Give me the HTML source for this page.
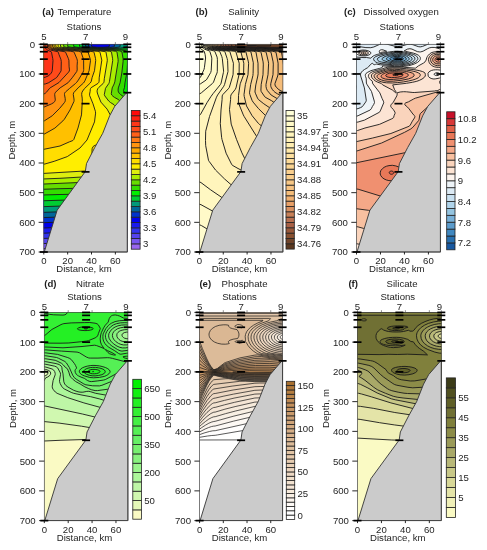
<!DOCTYPE html>
<html><head><meta charset="utf-8"><title>Hydrographic sections</title>
<style>
html,body{margin:0;padding:0;background:#fff;}
body{width:487px;height:550px;overflow:hidden;}
svg{display:block;}
text{font-family:"Liberation Sans",Arial,sans-serif;fill:#1e1e1e;}
.tl{font-size:9.6px;}
.tt{font-size:9.6px;}
.tb{font-size:9.6px;font-weight:bold;}
</style></head><body>
<svg width="487" height="550" viewBox="0 0 487 550">
<rect width="487" height="550" fill="#fff"/>
<clipPath id="clipa"><rect x="43.80" y="44.30" width="83.50" height="207.70"/></clipPath>
<g clip-path="url(#clipa)" stroke="#1a1a1a" stroke-width="0.9" fill-rule="evenodd">
<rect x="41.80" y="42.30" width="87.50" height="211.70" fill="#9966ee" stroke="none"/>
<path fill="#7755ee" d="M42.0,42.5l87.1,0 0,194.5 -8.6,3.1 -7.5,2.4 -6.8,1.7 -6.3,1.1 -4.4,.4 -35,2.5 -18.5,.6 0-206.3z"/>
<path fill="#5544ee" d="M42.0,42.5l87.1,0 0,186.8 -11.7,4.8 -7.8,2.8 -6.3,1.9 -6.3,1.4 -6.8,.8 -29.7,2 -18.5,.6 0-201.1z"/>
<path fill="#3333ee" d="M42.0,42.5l87.1,0 0,178.7 -21.9,9.9 -3.9,1.6 -3.8,1.2 -5,1.3 -4.8,.8 -29.7,1.8 -18,.7 0-196z"/>
<path fill="#1a1aee" d="M42.0,42.5l87.1,0 0,109.4 -1.5-1 -1.4-.6 -1.5-.3 -1,.2 -.9,.6 -.7,1.1 -.6,1.8 -.1,1.7 .4,2.7 .7,1.3 .8,.9 .9,.7 1.5,.7 1.4,.4 2,.1 0,50.6 -13.1,5.7 -4.4,2.2 -10.2,6 -3,1.4 -2.9,1 -3.9,.8 -30.6,2.5 -19,.9 0-190.8z"/>
<path fill="#0000ee" d="M42.0,42.5l87.1,0 0,106.7 -2.4-1.1 -2-.6 -1.4,.1 -1,.5 -1,1 -1,2 -.6,2.6 -.2,2.6 .1,1.8 .3,1.7 .6,1.4 .9,1.3 1.4,1.1 1.4,.9 2.5,1 2.4,.8 0,38.1 -4.9,2 -10.7,3.9 -4.4,1.9 -4.3,2.8 -9.3,7.3 -2.9,1.7 -2.4,.9 -30.2,2.4 -18,.8 0-185.6z"/>
<path fill="#0033cc" d="M42.0,42.5l49.6,0 0,4 2.2,.4 3.7,.4 5.8,0 4.3-.4 1.7-.4 .1-4 19.7,0 0,104.8 -2.9-1.1 -2.5-.6 -1.4,.2 -1,.7 -1.5,2.5 -.8,2.5 -.7,3.5 -.3,3.5 .1,1.8 .4,1.7 .6,1.4 1.1,1.3 2.6,1.9 6.3,3.4 0,26.1 -3.1,1.7 -3.7,1.5 -14.2,4.2 -4.8,1.9 -3.4,2 -6.8,5.8 -2.9,1.7 -19.5,4.7 -11.2,2.4 -17.5,.8 0-180.3z"/>
<path fill="#006699" d="M42.0,42.5l46.5,0 .1,4 .8,.4 2.2,.5 5.9,.4 5.8,.1 6.3-.3 3.9-.7 .8-.4 .1-4 14.7,0 0,103.2 -3.9-1.3 -1.9-.4 -1.5,.1 -1,.7 -1,1.7 -.9,2.3 -1.3,4.4 -.8,4.4 -.3,3.6 .4,2.6 .7,1.3 .8,1.1 1.8,1.6 5.9,3.9 1.5,1.4 1.5,1.8 0,11.9 -2.4,2.5 -3.4,2.1 -3.5,1.5 -10.7,3.6 -9,3.5 -13.8,7.6 -2,.5 -.6,.7 -1.3,.5 -1.5,1.3 -10,5.7 -1.2,.4 -27.7,.9 0-175.1z"/>
<path fill="#00997a" d="M42.0,42.5l43.6,0 0,4 .8,.4 5.2,1 11.7,.4 7.8-.2 6.8-.8 1.5-.4 .7-.4 0-4 9,0 0,101.9 -6.8-1.9 -1,0 -.5,.1 -.5,.6 -2.4,6.1 -1.2,3.9 -1.2,5.8 -.5,3.5 .2,2.6 .5,1.4 .7,1.1 2,1.9 4.4,3.1 1.8,2.2 .6,1.4 .3,1.7 0,1.3 -.4,1.4 -.6,1.3 -.8,.9 -1.4,1.3 -1.4,.9 -10.3,4.7 -29.7,16 -1.4,1.2 -2.2,.6 -6.6,3.7 -1.4,.4 -3.5,0 -23.8,.8 0-169.9z"/>
<path fill="#00cc33" d="M42.0,42.5l40.6,0 0,4 .8,.4 2.9,.7 4.8,.6 6.4,.4 11.6,.1 10.3-.5 5.8-.7 1.6-.6 .8-.4 0-.5 1.5,0 0,97.1 -7.8-1.9 -1,0 -.5,.4 -3.8,11.6 -2.1,8 -.6,3.5 .2,2.6 1.1,2.7 .9,1.3 1.4,1.6 2.9,1.9 .2,.9 -.6,.8 -2,.5 -.5,.3 -15.5,11.8 -10.3,8.1 -11.6,8.4 -4.4,0 -33.1,1.1 0-164.2z"/>
<path fill="#00ee00" d="M42.0,42.5l37.5,0 .1,4 .7,.4 1.1,.3 3,.6 7.2,.8 5.9,.3 6.3,.2 23.3,0 2,.3 0,92.6 -8.3-1.9 -1,.2 -.4,.5 -2,5.7 -1,3.2 -.2,1.3 -.8,1.8 -4.1,13.2 -1.1,3.1 -.5,1.8 -.1,2.3 -.7,1.6 -.8,.9 -1.4,.9 -1.9,.4 -.5,0 -.7-.4 1.2-1.1 .8-1.1 1.6-1.3 1.5-2.2 -.2-.9 -1.5-1.3 -1.7-.8 -1,0 -.4,.3 -1.2,1.8 -.9,2.7 -.1,2.6 .3,1.7 -.2,.9 -4.3,4.4 -1.1,1.4 -1.1,.8 -.2,.5 .6,4.4 -.1,.9 -.7,1.3 -1.6,1.8 -2.2,1.9 -1.4,1 -1.5,.7 -1.4,.1 -1-.4 -1.1-1.1 -.4-.1 -.5,.2 -3.7,3.8 .1,1.8 -.6,.9 -.6,.2 -.5-.1 -.5-.5 -.4-1.4 -.3-.4 -.7-.3 -34.6,1.1 0-158.3zM86.8,191.9l-.5,.4 0,.4 .5-.2 .3-.5 -.3-.1zM121.3,131.4l-1.9,2.9 0,.8 .4,.5 .9-.5 .2-.4 .3-1.3 .6-1.3 0-.8 -.5,.1zM127.1,117.2l-.3,.3 .3,1.4 .5,.2 .5-.3 .3-.9 -.3-.5 -1-.2z"/>
<path fill="#33dd00" d="M42.0,42.5l31.6,0 .1,4 1.4,.4 9.2,1.4 7.3,.7 11.7,.5 12.2,.2 5.7,.3 5,.8 1.2,.5 .4,.5 .2,4.8 -1,15.5 -2,10.6 -.5,4.8 -1,3.1 .2,1 2.5,1.5 .8,1 1.7,8.8 0,2.2 .4,1.4 0,.4 -1.5,1 -.5,.9 -.4,1.6 -.3,3.6 .5,1.7 -.9,1.4 0,1.3 -1.4,1.3 -.3,.4 .2,.5 2.2,.5 .9-.1 1.5-.5 0,20.3 -5.8-1 -2.4-.7 -.7-.4 -.1-.9 .2-.8 1-1.6 2.9-6 .3-3.1 -.3-1.7 1-1.4 .1-.4 -.6-.7 -.5-.3 -.5,.1 -.4,.9 0,1.3 -.9,1.3 -3.9,8.9 -.1,1.3 -.7,1.3 .7,.6 .9,1.2 .2,.4 -.1,.4 -1.6,3.6 -.8,2.6 -1.1,4.9 -1.1,2.2 -3.2,9.1 -1,2.2 -1,1.4 -.9,.7 -1,.2 -2.9,0 -1.5,.5 -1.5,2.6 -6.3,13 -1.3,1.6 -.5,1.3 -.1,.3 -1,.2 -.5,.3 -.7,1.4 -1.7,1.2 -3.4,.8 -1.3,.7 -.5,.4 -.4,.9 0,1.8 -.3,.5 -1.9,.2 -21.9,.4 -18,.5 0-152.5zM110.6,149.0l-1.6,2.5 -3.7,4.5 -1,1.5 -.5,1.2 -.2,1.1 .2,.9 .5,.5 .5,.1 .6-.1 .7-1.8 .8-.9 1.7-4 .7-1.3 .6-1.7 .7-.9 .2-1.3 -.2-.3zM111.6,147.0l-.5,.9 -.2,.9 .2,.1 .7-1 .1-.4 -.3-.5zM114.5,139.4l-.7,.6 -.8,1.6 -1,3.7 .1,1.2 0-.3 .9-.8 .3-1.4 1-1.4 .4-1.7 .8-.9 0-.5 -.5-.2 -.5,.1zM129.1,112.6l0,.7 0-.7zM91.4,191.6l.2-.1 .2,.1 -.2,.4 -.2-.4zM89.1,193.8l.6-.2 .2,.2 -1.4,.9 -.8,.2 -.5-.2 .1-.5 1.8-.4z"/>
<path fill="#66dd00" d="M42.0,42.5l25.7,0 0,4 1.3,.4 3,.5 19.1,1.9 25.3,1.2 3.2,.4 1.5,.4 .8,.5 1.2,7 0,2.7 -1.3,11.5 -1.7,9.7 -1.8,5.2 -.2,2.3 .3,1.7 .8,1.3 1.1,1.1 3.4,2.5 1.5,1.7 .7,1.4 0,4.8 -.4,5.7 0,1.8 -.2,1.3 .1,1.8 -.1,2.6 -2.3,1.4 -.9,1.3 -1.3,5.3 -2.8,7.9 -.1,1.3 -.2,.5 -1.4,.9 -.3,.4 .2,.4 1.2,.4 .6,.5 .6,1.3 -.1,.9 -1.2,2.2 -.5,1.8 -.9,1.3 .3,1.3 -.6,1.8 -.1,1.4 -2.2,4.3 -2.8,7.5 -1.4,2 -.9,.7 -1,.2 -1,0 -.9-.5 -1-1.5 .1-.4 .5-.5 1.1-.4 .3-.4 .4-1.4 1.1-1.3 .6-1.3 1-1.3 2.9-4.9 .6-1.3 .9-1.3 .2-1.6 .8-1.1 .1-.4 -.1-1.3 .6-1.4 .4-1.7 .5-.9 .1-.5 -.4-.9 -.5-.8 -.5-.2 -1.5,.6 -1,1.2 -3.7,8.5 -2,3.6 -3,4.7 -.9,1.9 -.4,1.3 .1,1.8 .8,1.7 .2,.9 .6,.9 0,.4 -.2,.5 -1.2,.9 -8.7,14.9 -3,4.5 -.9,1.7 -.5,.4 -29.7,.7 -18,.6 0-146.8zM127.2,122.3l1.9-.4 0,17.7 -5.4-.7 -1.9-.6 -.6-.5 .8-2.7 2.5-3.9 .5-1.4 .3-5.7 1.4-1.6 .5-.2z"/>
<path fill="#aaee00" d="M42.0,42.5l21.7,0 0,4 .9,.4 1.8,.5 24.7,2.2 21,1.2 3.6,.5 1.1,.5 .2,.4 1.1,7.1 0,2.2 -3.3,20.3 -.7,2.2 -1.9,3.9 -.9,5.8 .4,1.3 1.3,1.3 1.5,1.1 3.6,2 1.5,1.3 .5,.9 .6,2.7 1.3,3.9 0,1.4 -.4,1.3 -.5,3.1 .1,1.7 -.7,1.8 -2.5,14.1 -.6,1.8 0,1.3 -.3,.4 -3.6,1.3 -1.4,1.6 -3.9,8.5 -5.5,9.8 -1.1,2.7 -.2,3 .2,.9 1.5,1.8 0,.4 -.9,.9 -1.8,2.8 -10.1,12.6 -.4,.9 -.5,2.7 -.2,.5 -.5,.5 -1-.2 -1-.8 -.4-1.3 .5-1.4 -.5-.1 -44.3,1.9 0-141.6zM127.8,123.7l1.3-.4 0,14.9 -2.9-.1 -2.1-.3 -1-.5 -.5-.8 .2-.9 2.6-4 .6-1.3 .2-1.3 -.1-2.2 .2-1.8 .4-.6 1.1-.7zM114.3,150.1l.2-.3 .1,.3 -.1,.2 -.2-.2zM110.5,156.8l.2,0 .1,.4 -.2,1.3 -.8,2.2 -.7,1.2 -.9,.9 -1,.5 -.5,0 -1-.4 .2-.4 .9-.5 .3-.4 .4-1.8 1.1-.8 .6-1.4 .4-.4 .9-.4z"/>
<path fill="#ddee10" d="M42.0,42.5l18.5,0 0,4 .5,.4 1.3,.5 6.8,.9 22,1.7 15,.9 3.5,.4 1.7,.5 .2,.4 1.1,6.6 .1,1.8 -3.2,20.7 -.3,1.4 -.4,.8 -2.5,3.6 -.8,1.3 -1.2,6.2 .5,1.3 3.9,5.1 1.8,1.5 3.5,2.2 .8,.9 3,8.4 .2,.9 -.2,.8 -3.8,11.9 .2,.9 .3,.4 1,.4 .5,.4 .4,1.3 0,1.1 -.4,1.3 -.5,.3 -1-.1 -1.5-.5 -.5,.1 -.4,.5 -2.1,6.3 -7.8,15.4 -.6,1.8 -.8,1.3 -.2,.5 0,1.7 -.7,.8 -1,.7 -1.1,2.5 -.5,1.8 -.9,.8 -1.1,2.2 -.8,.8 -.8,.6 -11.8,6.1 -21.9,1.3 -18,.7 0-136.5zM128.8,125.4l.3-.1 0,11.2 -2.9-.2 -1-.6 -.1-.6 1.9-3.5 .5-1.8 .3-3 .3-.8 .7-.6z"/>
<path fill="#ffee00" d="M42.0,42.5l16.1,0 0,4 .5,.4 .9,.5 2,.5 6.3,.7 32.6,2.4 4.9,.7 .4,.1 .3,.4 1.2,6.6 .1,1.8 -3,18.1 -.3,3.1 -.3,.9 -.6,.8 -4.4,4 -.8,.9 -.7,1.8 -.1,1.7 .6,2.2 3.2,8 6.2,7 2.9,5.3 1.6,2.1 .3,1 0,.9 -4.1,17.6 -1,3.5 -.8,1.8 -5,15.5 -1.2,1.7 0,1.3 -.2,.5 -1.4,.9 -6.6,5.2 -2.3,1.4 -3.5,2.7 -1,.5 -42.8,2.5 0-131z"/>
<path fill="#ffdd00" d="M42.0,42.5l13.8,0 0,4 .3,.4 2.3,.9 3.1,.6 6.3,.7 11.7,.7 13.4,1.1 4.3,.4 2.4,.5 .4,.4 1.8,8 -2.6,17.6 -.1,3.5 -.2,.9 -.5,.8 -.4,.4 -6.9,4.3 -.5,.7 -.3,.9 -.2,2.2 -.5,2.6 0,1.3 3.4,8.4 2.4,7.5 .2,1.8 -1.1,8.8 -7.5,18.1 -7,8 -12.7,8.6 -13.1,4.7 -9.3,2.7 -2.9,.5 0-122zM95.0,145.3l2-.4 1.4,.1 1.2,.7 .8,1.3 .4,1.8 .1,2.2 -.2,1.8 -.7,3.1 -1.8,3.1 -.7,.6 -1.5,.8 -2.8,1.2 -2.1,1.4 -.9,.2 -1-.6 -.2-1 .3-.9 1.8-2.9 .7-1.9 .3-1.8 -.1-4 .2-1.7 .9-1.8 1-.8 .9-.5z"/>
<path fill="#ffc000" d="M42.0,42.5l12.1,0 0,4 .3,.4 1.4,.9 3.7,.8 6.3,.7 21.3,1.6 6.5,.9 .4,.4 1.5,6.2 .2,2.2 -1.2,10.1 -2.4,6.9 -.8,3.7 -1.1,1.8 -5.9,5.7 -1.6,2.2 -.9,1.8 -.1,1.8 .5,3.5 .1,3.5 -.8,13.3 -3.5,13.1 -4.2,11.5 -.7,.8 -.9,.5 -2.9,1.1 -9.3,4.1 -18,3.7 0-107.2z"/>
<path fill="#ffa800" d="M42.0,42.5l10.5,0 .1,4 .2,.4 1.1,.9 2.2,.8 5.9,.9 17.5,1.3 8.1,1 .5,.4 2.1,6.6 .3,1.8 -1.4,10.1 -4,9.7 -.8,1.5 -.9,1.2 -5.3,4.8 -4.5,4.9 -.3,1.8 .7,4.4 .1,1.3 -.2,1.3 -3.9,8.4 -5.6,9.2 -1.5,1.7 -8,7.2 -10.1,5.7 -1.3,.6 -1.5,.3 0-92.2z"/>
<path fill="#ff9410" d="M42.0,42.5l9,0 0,4 .1,.4 .4,.5 1.2,.7 2.9,1 5.9,.8 12.7,1 4.2,.4 2.2,.5 .5,.4 2.1,6.2 .4,1.8 .1,9.2 -.1,1.3 -.5,1.4 -4.7,7.9 -1.6,2.2 -1.3,1.3 -5.9,4.9 -4,3.5 -.8,.9 -.3,.9 0,.9 .7,3.9 .1,1.8 -.1,.9 -.8,1.4 -4.6,5.6 -7.6,7.6 -7.8,5 -2.4,.8 0-79.1z"/>
<path fill="#ff7a14" d="M42.0,42.5l7.8,0 0,4 .3,.9 1.2,1 2,.7 2.3,.6 3.4,.5 11.8,1.1 2.8,.5 .5,.4 2.8,6.6 .4,1.4 .1,1.3 -.3,4.4 .1,4 -.5,1.7 -4.5,6.2 -4.1,4.9 -8,5.2 -5,4.8 -.3,1 -.1,.9 .6,5.3 -.2,.8 -.4,.9 -1.5,1.3 -1.9,1.1 -6.9,2.9 -2.4,.4 0-64.8z"/>
<path fill="#ff6018" d="M42.0,42.5l6.6,0 0,4.4 .9,1.4 1.3,.8 4.3,1.1 10,1.6 .5,.4 2.7,6.2 .6,1.8 .2,6.6 .4,3.1 -.2,1.1 -.7,1.1 -9.6,10.4 -8.9,5.4 -.9,.9 -2.8,3.5 -1,.9 -1.4,.8 -2,.6 0-52.1z"/>
<path fill="#ff4a1a" d="M42.0,42.5l5.4,0 0,4.4 .3,.9 .6,.9 1,.8 1.5,.6 7.2,1.7 .3,.4 .7,2.4 1.9,4.7 .4,2.2 -.2,9.2 -.7,1.4 -3.6,5.3 -1.2,.9 -7.3,4.6 -2.9,1 -3.4,.6 0-42z"/>
<path fill="#ff3518" d="M42.0,42.5l3,0 0,4 .1,.9 .4,.9 .8,.8 1.5,1.2 3.5,1.5 .2,.4 1.2,6.2 .3,2.2 -.7,9.7 -.3,1.3 -.7,1.4 -1.5,1.7 -1.7,1.3 -2.7,1.2 -3.4,.9 0-35.6z"/>
<path fill="#ff2010" d="M42.0,51.3l0-.2 .5,.7 .1,1.7 -.1,2.3 -.5,2.4 0-6.9z"/>
</g>
<path fill="#cbcbcb" stroke="#333" stroke-width="0.9" d="M127.30,92.66L126.11,93.26L114.77,106.31L109.65,115.81L102.73,133.31L94.73,147.56L86.50,163.58L85.31,171.59L57.16,210.16L44.28,252.00L127.30,252.00Z"/>
<rect x="43.80" y="44.30" width="83.50" height="207.70" fill="none" stroke="#444" stroke-width="0.7"/>
<line x1="38.60" x2="43.80" y1="44.30" y2="44.30" stroke="#111" stroke-width="0.9"/>
<text x="35.20" y="47.70" class="tl" text-anchor="end">0</text>
<line x1="38.60" x2="43.80" y1="73.97" y2="73.97" stroke="#111" stroke-width="0.9"/>
<text x="35.20" y="77.37" class="tl" text-anchor="end">100</text>
<line x1="38.60" x2="43.80" y1="103.64" y2="103.64" stroke="#111" stroke-width="0.9"/>
<text x="35.20" y="107.04" class="tl" text-anchor="end">200</text>
<line x1="38.60" x2="43.80" y1="133.31" y2="133.31" stroke="#111" stroke-width="0.9"/>
<text x="35.20" y="136.71" class="tl" text-anchor="end">300</text>
<line x1="38.60" x2="43.80" y1="162.99" y2="162.99" stroke="#111" stroke-width="0.9"/>
<text x="35.20" y="166.39" class="tl" text-anchor="end">400</text>
<line x1="38.60" x2="43.80" y1="192.66" y2="192.66" stroke="#111" stroke-width="0.9"/>
<text x="35.20" y="196.06" class="tl" text-anchor="end">500</text>
<line x1="38.60" x2="43.80" y1="222.33" y2="222.33" stroke="#111" stroke-width="0.9"/>
<text x="35.20" y="225.73" class="tl" text-anchor="end">600</text>
<line x1="38.60" x2="43.80" y1="252.00" y2="252.00" stroke="#111" stroke-width="0.9"/>
<text x="35.20" y="255.40" class="tl" text-anchor="end">700</text>
<line x1="43.80" x2="43.80" y1="252.00" y2="254.50" stroke="#111" stroke-width="0.9"/>
<text x="43.80" y="264.30" class="tl" text-anchor="middle">0</text>
<line x1="67.66" x2="67.66" y1="252.00" y2="254.50" stroke="#111" stroke-width="0.9"/>
<text x="67.66" y="264.30" class="tl" text-anchor="middle">20</text>
<line x1="91.51" x2="91.51" y1="252.00" y2="254.50" stroke="#111" stroke-width="0.9"/>
<text x="91.51" y="264.30" class="tl" text-anchor="middle">40</text>
<line x1="115.37" x2="115.37" y1="252.00" y2="254.50" stroke="#111" stroke-width="0.9"/>
<text x="115.37" y="264.30" class="tl" text-anchor="middle">60</text>
<line x1="43.80" x2="43.80" y1="42.10" y2="44.30" stroke="#444" stroke-width="0.6"/>
<line x1="67.66" x2="67.66" y1="42.10" y2="44.30" stroke="#444" stroke-width="0.6"/>
<line x1="91.51" x2="91.51" y1="42.10" y2="44.30" stroke="#444" stroke-width="0.6"/>
<line x1="115.37" x2="115.37" y1="42.10" y2="44.30" stroke="#444" stroke-width="0.6"/>
<line x1="127.30" x2="127.30" y1="42.10" y2="44.30" stroke="#444" stroke-width="0.6"/>
<text x="43.80" y="40.30" class="tl" text-anchor="middle">5</text>
<text x="85.55" y="40.30" class="tl" text-anchor="middle">7</text>
<text x="125.30" y="40.30" class="tl" text-anchor="middle">9</text>
<rect x="39.80" y="43.45" width="8" height="1.7" fill="#000"/>
<rect x="39.80" y="46.42" width="8" height="1.7" fill="#000"/>
<rect x="39.80" y="50.87" width="8" height="1.7" fill="#000"/>
<rect x="39.80" y="58.29" width="8" height="1.7" fill="#000"/>
<rect x="39.80" y="73.12" width="8" height="1.7" fill="#000"/>
<rect x="39.80" y="102.79" width="8" height="1.7" fill="#000"/>
<rect x="39.80" y="251.15" width="8" height="1.7" fill="#000"/>
<rect x="81.55" y="43.45" width="8" height="1.7" fill="#000"/>
<rect x="81.55" y="46.42" width="8" height="1.7" fill="#000"/>
<rect x="81.55" y="50.87" width="8" height="1.7" fill="#000"/>
<rect x="81.55" y="58.29" width="8" height="1.7" fill="#000"/>
<rect x="81.55" y="73.12" width="8" height="1.7" fill="#000"/>
<rect x="81.55" y="102.79" width="8" height="1.7" fill="#000"/>
<rect x="81.55" y="171.04" width="8" height="1.7" fill="#000"/>
<rect x="123.30" y="43.45" width="8" height="1.7" fill="#000"/>
<rect x="123.30" y="46.42" width="8" height="1.7" fill="#000"/>
<rect x="123.30" y="50.87" width="8" height="1.7" fill="#000"/>
<rect x="123.30" y="58.29" width="8" height="1.7" fill="#000"/>
<rect x="123.30" y="73.12" width="8" height="1.7" fill="#000"/>
<rect x="123.30" y="91.81" width="8" height="1.7" fill="#000"/>
<rect x="131.30" y="243.86" width="8.80" height="5.34" fill="#9966ee" stroke="#222" stroke-width="0.8"/>
<rect x="131.30" y="238.52" width="8.80" height="5.34" fill="#7755ee" stroke="#222" stroke-width="0.8"/>
<rect x="131.30" y="233.18" width="8.80" height="5.34" fill="#5544ee" stroke="#222" stroke-width="0.8"/>
<rect x="131.30" y="227.85" width="8.80" height="5.34" fill="#3333ee" stroke="#222" stroke-width="0.8"/>
<rect x="131.30" y="222.51" width="8.80" height="5.34" fill="#1a1aee" stroke="#222" stroke-width="0.8"/>
<rect x="131.30" y="217.17" width="8.80" height="5.34" fill="#0000ee" stroke="#222" stroke-width="0.8"/>
<rect x="131.30" y="211.83" width="8.80" height="5.34" fill="#0033cc" stroke="#222" stroke-width="0.8"/>
<rect x="131.30" y="206.49" width="8.80" height="5.34" fill="#006699" stroke="#222" stroke-width="0.8"/>
<rect x="131.30" y="201.15" width="8.80" height="5.34" fill="#00997a" stroke="#222" stroke-width="0.8"/>
<rect x="131.30" y="195.82" width="8.80" height="5.34" fill="#00cc33" stroke="#222" stroke-width="0.8"/>
<rect x="131.30" y="190.48" width="8.80" height="5.34" fill="#00ee00" stroke="#222" stroke-width="0.8"/>
<rect x="131.30" y="185.14" width="8.80" height="5.34" fill="#33dd00" stroke="#222" stroke-width="0.8"/>
<rect x="131.30" y="179.80" width="8.80" height="5.34" fill="#66dd00" stroke="#222" stroke-width="0.8"/>
<rect x="131.30" y="174.46" width="8.80" height="5.34" fill="#aaee00" stroke="#222" stroke-width="0.8"/>
<rect x="131.30" y="169.12" width="8.80" height="5.34" fill="#ddee10" stroke="#222" stroke-width="0.8"/>
<rect x="131.30" y="163.78" width="8.80" height="5.34" fill="#ffee00" stroke="#222" stroke-width="0.8"/>
<rect x="131.30" y="158.45" width="8.80" height="5.34" fill="#ffdd00" stroke="#222" stroke-width="0.8"/>
<rect x="131.30" y="153.11" width="8.80" height="5.34" fill="#ffc000" stroke="#222" stroke-width="0.8"/>
<rect x="131.30" y="147.77" width="8.80" height="5.34" fill="#ffa800" stroke="#222" stroke-width="0.8"/>
<rect x="131.30" y="142.43" width="8.80" height="5.34" fill="#ff9410" stroke="#222" stroke-width="0.8"/>
<rect x="131.30" y="137.09" width="8.80" height="5.34" fill="#ff7a14" stroke="#222" stroke-width="0.8"/>
<rect x="131.30" y="131.75" width="8.80" height="5.34" fill="#ff6018" stroke="#222" stroke-width="0.8"/>
<rect x="131.30" y="126.42" width="8.80" height="5.34" fill="#ff4a1a" stroke="#222" stroke-width="0.8"/>
<rect x="131.30" y="121.08" width="8.80" height="5.34" fill="#ff3518" stroke="#222" stroke-width="0.8"/>
<rect x="131.30" y="115.74" width="8.80" height="5.34" fill="#ff2010" stroke="#222" stroke-width="0.8"/>
<rect x="131.30" y="110.40" width="8.80" height="5.34" fill="#ff0a0a" stroke="#222" stroke-width="0.8"/>
<text x="142.90" y="119.24" class="tl">5.4</text>
<text x="142.90" y="135.25" class="tl">5.1</text>
<text x="142.90" y="151.27" class="tl">4.8</text>
<text x="142.90" y="167.28" class="tl">4.5</text>
<text x="142.90" y="183.30" class="tl">4.2</text>
<text x="142.90" y="199.32" class="tl">3.9</text>
<text x="142.90" y="215.33" class="tl">3.6</text>
<text x="142.90" y="231.35" class="tl">3.3</text>
<text x="142.90" y="247.36" class="tl">3</text>
<text x="42.30" y="14.80" class="tb">(a)</text>
<text x="57.40" y="14.80" class="tt">Temperature</text>
<text x="83.95" y="29.70" class="tt" text-anchor="middle">Stations</text>
<text x="83.95" y="272.10" class="tt" text-anchor="middle">Distance, km</text>
<text class="tt" text-anchor="middle" transform="translate(15.20,140.15) rotate(-90)">Depth, m</text>
<clipPath id="clipb"><rect x="199.40" y="44.30" width="83.50" height="207.70"/></clipPath>
<g clip-path="url(#clipb)" stroke="#1a1a1a" stroke-width="0.95" fill-rule="evenodd">
<rect x="197.40" y="42.30" width="87.50" height="211.70" fill="#5a3820" stroke="none"/>
<path fill="#70442a" d="M197.6,42.5l49.6,0 0,3.1 9.3,0 .5,.4 13.6,0 0-3.5 14.1,0 0,211.3 -87.1,0 0-211.3z"/>
<path fill="#885030" d="M197.6,42.5l37.7,0 0,3.1 1.4,.4 10.5,.8 23.9,.6 13.6,0 0,206.4 -87.1,0 0-211.3z"/>
<path fill="#98583a" d="M197.6,42.5l33.6,0 0,3.1 .8,.4 3.1,.6 12.1,.6 37.5,.9 0,205.7 -87.1,0 0-211.3z"/>
<path fill="#a86045" d="M197.6,42.5l30.4,0 0,3.1 .6,.4 5.9,.9 12.7,.7 37.5,1.1 0,205.1 -87.1,0 0-211.3z"/>
<path fill="#b87050" d="M197.6,42.5l28,0 0,3.1 .7,.4 1.6,.5 3.1,.4 4.6,.4 11.1,.5 38,1.4 0,204.6 -87.1,0 0-211.3z"/>
<path fill="#c88058" d="M197.6,42.5l25.7,0 .1,3.2 .6,.3 1.6,.5 3.6,.6 6.4,.5 49.1,2.1 0,204.1 -87.1,0 0-211.3z"/>
<path fill="#d89060" d="M197.6,42.5l24.2,0 0,3.1 .4,.4 1.2,.5 5.6,.9 6.1,.5 30.1,1.2 19.5,1.1 0,203.6 -87.1,0 0-211.3z"/>
<path fill="#e8a068" d="M197.6,42.5l22.7,0 0,3.1 .5,.4 2.6,.9 3.2,.5 8.5,.7 31.1,1.4 18.5,1.3 0,203 -87.1,0 0-211.3z"/>
<path fill="#f0b070" d="M197.6,42.5l21.2,0 0,3.1 .5,.4 2.5,.9 2.4,.5 10.9,.9 33.6,1.7 11,.9 5,.6 0,202.3 -87.1,0 0-211.3z"/>
<path fill="#f5bd7a" d="M197.6,42.5l19.7,0 .1,3.1 .4,.4 2.5,.9 3.1,.7 11.7,1 21.4,1 12.9,.9 8.4,.8 2.5,.5 1.2,.4 1.5,8.4 .5,4.4 .4,8.4 -.3,7.5 .3,1.8 .8,1.2 0,169.9 -87.1,0 0-211.3z"/>
<path fill="#f6c282" d="M197.6,42.5l18.5,0 0,3.1 .4,.4 2.2,.9 4.2,.9 9.7,.8 31.7,1.9 8.4,.8 2.3,.5 1,.4 2.1,11 0,10.6 -.4,2.2 -2.7,7.5 0,1.4 .4,1.1 .8,1.1 2.7,2.6 2.2,1.3 3.6,.9 0,161.9 -87.1,0 0-211.3z"/>
<path fill="#f7c786" d="M197.6,42.5l17.3,0 0,3.1 .4,.4 1.9,.9 4.2,.9 7.8,.9 32.6,2 6.1,.6 2.3,.5 .8,.4 2.1,9.7 .2,2.2 -.3,10.6 -2.2,8.8 -.1,1.8 .2,1.3 .5,1.3 1.1,1.8 1.1,1.3 1.4,1.3 2.4,1.5 7.3,3.6 0,156.4 -87.1,0 0-211.3z"/>
<path fill="#f8cc8a" d="M197.6,42.5l16.1,0 .1,3.1 .3,.4 1.8,.9 3.1,.8 4.4,.7 5.8,.5 30.4,2 5.8,.9 .7,.4 2.3,9.7 .2,1.8 -.6,11 -2,9.7 0,2.2 .5,2.2 .9,1.8 3.7,4.4 8.7,5.2 4.9,3.6 0,150 -87.1,0 0-211.3z"/>
<path fill="#f9cf8e" d="M197.6,42.5l14.9,0 .1,3.1 .3,.4 1.7,.9 3,.9 5.3,.8 4.9,.4 27.1,1.9 5.7,.9 .4,.4 2.1,9.7 .2,2.2 -.3,10.6 -1.8,9.7 -.3,5.8 .3,1.3 3.1,4.6 .9,1.1 6.4,3.5 2.5,1.8 5.3,4.4 5.3,5.1 0,141.8 -87.1,0 0-211.3z"/>
<path fill="#fad492" d="M197.6,42.5l13.7,0 0,2.7 .1,.4 .3,.4 1.5,.9 3.4,1 7.3,1 26.3,2 3.6,.4 2,.5 .2,.4 2,11 .1,10.6 -.3,2.2 -2,8.9 -.8,6.1 0,1 .4,1.2 2.1,4.9 .9,1.4 5.4,4.3 5.8,3.9 2.9,2.3 5.9,5.6 6.3,6.9 0,131.3 -87.1,0 0-211.3z"/>
<path fill="#fcda98" d="M197.6,42.5l12.8,0 0,3.1 .7,.9 2,.9 4,.9 6.8,.9 21.8,1.7 3.5,.4 1.7,.5 2.4,11 -.2,10.6 -.2,2.2 -2.2,8.8 -1.2,8.4 .4,1.8 2.1,5.7 1.1,1.8 5.3,6.4 7.8,7.7 6.8,6 3.4,3.3 4.3,4.8 4,5.2 0,118.3 -87.1,0 0-211.3z"/>
<path fill="#fde0a0" d="M197.6,42.5l11.8,0 .1,3.1 .6,.9 1.6,.9 4.4,1.1 7.3,.9 17.8,1.5 3.3,.4 1.4,.5 2.5,10.1 .2,1.8 -.6,11 -2.6,9.7 -1.4,10.2 .2,1.7 2.3,9.7 5.6,9.7 6.3,7.7 1.3,1.2 5,3.2 3.4,2.6 3.2,3 2.7,3.1 2.2,3 2.3,3.6 6.2,10.9 0,99.8 -87.1,0 0-211.3z"/>
<path fill="#ffe8a8" d="M197.6,42.5l10.9,0 0,3.1 .6,.9 2.1,1.2 3,.8 8.7,1.2 13.8,1.2 3.2,.4 1,.5 2.9,11.4 -.2,10.6 -.3,1.8 -2.9,7.7 -.4,1.6 -1.5,10.5 -.1,6.7 .4,1.7 4.5,11.1 .9,1.7 11.9,19 1.3,1.3 4.4,3 1.6,1.9 1.3,2.2 3.8,7.5 2.5,4.4 13.7,21.5 0,76.4 -87.1,0 0-211.3z"/>
<path fill="#ffeeb0" d="M197.6,42.5l9.9,0 0,2.7 .2,.8 .6,.7 1,.7 1.9,.8 6.4,1.2 17.4,1.9 .9,.5 3.3,11.4 -.1,11.1 -3.1,13.6 -.9,1.7 -3.6,4.5 -.5,.9 -.3,1.3 -.1,3.1 -1.1,10.2 1.7,14.5 5.3,15.2 5.4,13.5 2.9,5.9 1,1 4.1,3.2 6.6,3.5 3.9,2.5 3.4,2.8 3.4,3.4 4.2,5 4.4,6.2 4.5,7.4 4.4,8 0,52.1 -87.1,0 0-211.3z"/>
<path fill="#fff1b6" d="M197.6,42.5l8.9,0 0,2.7 .2,.8 .8,.9 1.8,1.1 1.9,.6 3.9,.8 12,1.5 2.3,.4 .5,.5 3.5,11.4 -.3,11.1 -.4,1.7 -3.4,11.5 -1,1.3 -5.4,5.7 -.7,1.4 -.1,3.5 -1.1,10.6 -.7,13.7 1.3,13.6 .4,2.2 4.1,13.7 5.7,11.5 1.1,.9 5.1,2.9 7.3,3.7 3.1,2.6 4.5,4.4 6,6.7 5.4,6.9 4.8,7.2 4.9,8.3 5.5,11.1 5.2,12 0,22.4 -87.1,0 0-211.3z"/>
<path fill="#fff5bc" d="M197.6,42.5l7.9,0 0,2.7 .2,.8 1.1,1.4 1.5,.8 3.9,1.1 10.5,1.6 1.9,.4 .3,.5 2.2,6.6 .5,2.2 .4,11 -3.4,12.8 -.8,1.8 -6.2,8.8 -1.1,2.2 -7,19.4 -3.8,14.6 -.2,9.2 .2,5.3 2.8,14.6 .8,1.3 6.2,8.4 8.9,8.8 6.8,6 8.7,5.2 4.4,3.3 2.9,2.7 2.9,3 5.9,7.1 3.2,4.5 3.1,5 2.9,5.1 2.9,5.8 2.8,6.1 2.6,6.4 5.2,14.8 -81.1,0 0-211.3z"/>
<path fill="#fff8c2" d="M197.6,42.5l6.9,0 .1,3.5 .5,.9 1.3,1.1 1.5,.7 2.4,.7 8,1.5 1.4,.4 2.1,5.3 .5,1.8 1.3,12.8 -.2,1.3 -2.3,10.6 -.6,1.3 -7.5,9.3 -1.9,2.6 -4,6.2 -6.6,11.9 -.9,1 -2,1 0-73.9zM197.6,181.9l0-.3 2.4,.5 1,.5 9.6,7.2 10.4,7.1 14.1,10.3 3.9,3.4 3.5,3.5 3,3.5 2.9,4 2.7,4.2 2.6,4.6 2.7,5.3 2.3,5.3 4.7,12.8 -65.8,0 0-71.9z"/>
<path fill="#fffac8" d="M197.6,42.5l5.9,0 .1,3.5 .3,1 1,1 1.1,.7 1.8,.7 6,1.5 1,.4 2.3,5.8 .3,2.2 -.1,12.3 -.3,1.4 -1.3,3 -2.2,6.2 -1.1,1.3 -10.9,9.2 -1.5,1 -2.4,.8 0-52zM197.6,203.9l0-.1 1.5,.3 1.9,.6 17,9.3 5.8,4.1 4.8,4.4 2.6,2.8 2.4,3.1 2.3,3.3 2.1,3.6 4.1,8.3 4,10.2 -48.5,0 0-49.9z"/>
<path fill="#fffcce" d="M197.6,42.5l4.2,0 .1,3.5 .5,.9 1,1.4 1.5,1 4.4,1.6 .5,.4 1.8,5.8 .2,1.7 -.6,11.9 -.5,1.8 -3.8,6.6 -.7,.9 -5.7,3.8 -2.9,.9 0-42.2zM197.6,224.7l0-.4 1.5,.3 2.4,1 9.5,5.7 2.1,1.8 2.3,3 2.4,4 2.7,5.5 3.6,8.2 -26.5,0 0-29.1z"/>
<path fill="#ffffd8" d="M197.6,45.2l0-.5 .5,.5 1,0 .1,.8 .5,1.4 .8,1.3 1,.8 2.4,1.4 .3,.4 .9,3.1 .5,3.6 -1.2,9.7 -.4,1.7 -3.6,8 -.8,.7 -2,.7 0-33.6z"/>
</g>
<path fill="#cbcbcb" stroke="#333" stroke-width="0.9" d="M282.90,92.66L281.71,93.26L270.38,106.31L265.25,115.81L258.33,133.31L250.33,147.56L242.10,163.58L240.91,171.59L212.76,210.16L199.88,252.00L282.90,252.00Z"/>
<rect x="199.40" y="44.30" width="83.50" height="207.70" fill="none" stroke="#444" stroke-width="0.7"/>
<line x1="194.20" x2="199.40" y1="44.30" y2="44.30" stroke="#111" stroke-width="0.9"/>
<text x="190.80" y="47.70" class="tl" text-anchor="end">0</text>
<line x1="194.20" x2="199.40" y1="73.97" y2="73.97" stroke="#111" stroke-width="0.9"/>
<text x="190.80" y="77.37" class="tl" text-anchor="end">100</text>
<line x1="194.20" x2="199.40" y1="103.64" y2="103.64" stroke="#111" stroke-width="0.9"/>
<text x="190.80" y="107.04" class="tl" text-anchor="end">200</text>
<line x1="194.20" x2="199.40" y1="133.31" y2="133.31" stroke="#111" stroke-width="0.9"/>
<text x="190.80" y="136.71" class="tl" text-anchor="end">300</text>
<line x1="194.20" x2="199.40" y1="162.99" y2="162.99" stroke="#111" stroke-width="0.9"/>
<text x="190.80" y="166.39" class="tl" text-anchor="end">400</text>
<line x1="194.20" x2="199.40" y1="192.66" y2="192.66" stroke="#111" stroke-width="0.9"/>
<text x="190.80" y="196.06" class="tl" text-anchor="end">500</text>
<line x1="194.20" x2="199.40" y1="222.33" y2="222.33" stroke="#111" stroke-width="0.9"/>
<text x="190.80" y="225.73" class="tl" text-anchor="end">600</text>
<line x1="194.20" x2="199.40" y1="252.00" y2="252.00" stroke="#111" stroke-width="0.9"/>
<text x="190.80" y="255.40" class="tl" text-anchor="end">700</text>
<line x1="199.40" x2="199.40" y1="252.00" y2="254.50" stroke="#111" stroke-width="0.9"/>
<text x="199.40" y="264.30" class="tl" text-anchor="middle">0</text>
<line x1="223.26" x2="223.26" y1="252.00" y2="254.50" stroke="#111" stroke-width="0.9"/>
<text x="223.26" y="264.30" class="tl" text-anchor="middle">20</text>
<line x1="247.11" x2="247.11" y1="252.00" y2="254.50" stroke="#111" stroke-width="0.9"/>
<text x="247.11" y="264.30" class="tl" text-anchor="middle">40</text>
<line x1="270.97" x2="270.97" y1="252.00" y2="254.50" stroke="#111" stroke-width="0.9"/>
<text x="270.97" y="264.30" class="tl" text-anchor="middle">60</text>
<line x1="199.40" x2="199.40" y1="42.10" y2="44.30" stroke="#444" stroke-width="0.6"/>
<line x1="223.26" x2="223.26" y1="42.10" y2="44.30" stroke="#444" stroke-width="0.6"/>
<line x1="247.11" x2="247.11" y1="42.10" y2="44.30" stroke="#444" stroke-width="0.6"/>
<line x1="270.97" x2="270.97" y1="42.10" y2="44.30" stroke="#444" stroke-width="0.6"/>
<line x1="282.90" x2="282.90" y1="42.10" y2="44.30" stroke="#444" stroke-width="0.6"/>
<text x="199.40" y="40.30" class="tl" text-anchor="middle">5</text>
<text x="241.15" y="40.30" class="tl" text-anchor="middle">7</text>
<text x="280.90" y="40.30" class="tl" text-anchor="middle">9</text>
<rect x="195.40" y="43.45" width="8" height="1.7" fill="#000"/>
<rect x="195.40" y="46.42" width="8" height="1.7" fill="#000"/>
<rect x="195.40" y="50.87" width="8" height="1.7" fill="#000"/>
<rect x="195.40" y="58.29" width="8" height="1.7" fill="#000"/>
<rect x="195.40" y="73.12" width="8" height="1.7" fill="#000"/>
<rect x="195.40" y="102.79" width="8" height="1.7" fill="#000"/>
<rect x="195.40" y="251.15" width="8" height="1.7" fill="#000"/>
<rect x="237.15" y="43.45" width="8" height="1.7" fill="#000"/>
<rect x="237.15" y="46.42" width="8" height="1.7" fill="#000"/>
<rect x="237.15" y="50.87" width="8" height="1.7" fill="#000"/>
<rect x="237.15" y="58.29" width="8" height="1.7" fill="#000"/>
<rect x="237.15" y="73.12" width="8" height="1.7" fill="#000"/>
<rect x="237.15" y="102.79" width="8" height="1.7" fill="#000"/>
<rect x="237.15" y="171.04" width="8" height="1.7" fill="#000"/>
<rect x="278.90" y="43.45" width="8" height="1.7" fill="#000"/>
<rect x="278.90" y="46.42" width="8" height="1.7" fill="#000"/>
<rect x="278.90" y="50.87" width="8" height="1.7" fill="#000"/>
<rect x="278.90" y="58.29" width="8" height="1.7" fill="#000"/>
<rect x="278.90" y="73.12" width="8" height="1.7" fill="#000"/>
<rect x="278.90" y="91.81" width="8" height="1.7" fill="#000"/>
<rect x="286.00" y="243.77" width="8.30" height="5.33" fill="#5a3820" stroke="#222" stroke-width="0.8"/>
<rect x="286.00" y="238.44" width="8.30" height="5.33" fill="#70442a" stroke="#222" stroke-width="0.8"/>
<rect x="286.00" y="233.11" width="8.30" height="5.33" fill="#885030" stroke="#222" stroke-width="0.8"/>
<rect x="286.00" y="227.78" width="8.30" height="5.33" fill="#98583a" stroke="#222" stroke-width="0.8"/>
<rect x="286.00" y="222.45" width="8.30" height="5.33" fill="#a86045" stroke="#222" stroke-width="0.8"/>
<rect x="286.00" y="217.12" width="8.30" height="5.33" fill="#b87050" stroke="#222" stroke-width="0.8"/>
<rect x="286.00" y="211.78" width="8.30" height="5.33" fill="#c88058" stroke="#222" stroke-width="0.8"/>
<rect x="286.00" y="206.45" width="8.30" height="5.33" fill="#d89060" stroke="#222" stroke-width="0.8"/>
<rect x="286.00" y="201.12" width="8.30" height="5.33" fill="#e8a068" stroke="#222" stroke-width="0.8"/>
<rect x="286.00" y="195.79" width="8.30" height="5.33" fill="#f0b070" stroke="#222" stroke-width="0.8"/>
<rect x="286.00" y="190.46" width="8.30" height="5.33" fill="#f5bd7a" stroke="#222" stroke-width="0.8"/>
<rect x="286.00" y="185.13" width="8.30" height="5.33" fill="#f6c282" stroke="#222" stroke-width="0.8"/>
<rect x="286.00" y="179.80" width="8.30" height="5.33" fill="#f7c786" stroke="#222" stroke-width="0.8"/>
<rect x="286.00" y="174.47" width="8.30" height="5.33" fill="#f8cc8a" stroke="#222" stroke-width="0.8"/>
<rect x="286.00" y="169.14" width="8.30" height="5.33" fill="#f9cf8e" stroke="#222" stroke-width="0.8"/>
<rect x="286.00" y="163.81" width="8.30" height="5.33" fill="#fad492" stroke="#222" stroke-width="0.8"/>
<rect x="286.00" y="158.48" width="8.30" height="5.33" fill="#fcda98" stroke="#222" stroke-width="0.8"/>
<rect x="286.00" y="153.15" width="8.30" height="5.33" fill="#fde0a0" stroke="#222" stroke-width="0.8"/>
<rect x="286.00" y="147.82" width="8.30" height="5.33" fill="#ffe8a8" stroke="#222" stroke-width="0.8"/>
<rect x="286.00" y="142.48" width="8.30" height="5.33" fill="#ffeeb0" stroke="#222" stroke-width="0.8"/>
<rect x="286.00" y="137.15" width="8.30" height="5.33" fill="#fff1b6" stroke="#222" stroke-width="0.8"/>
<rect x="286.00" y="131.82" width="8.30" height="5.33" fill="#fff5bc" stroke="#222" stroke-width="0.8"/>
<rect x="286.00" y="126.49" width="8.30" height="5.33" fill="#fff8c2" stroke="#222" stroke-width="0.8"/>
<rect x="286.00" y="121.16" width="8.30" height="5.33" fill="#fffac8" stroke="#222" stroke-width="0.8"/>
<rect x="286.00" y="115.83" width="8.30" height="5.33" fill="#fffcce" stroke="#222" stroke-width="0.8"/>
<rect x="286.00" y="110.50" width="8.30" height="5.33" fill="#ffffd8" stroke="#222" stroke-width="0.8"/>
<text x="297.10" y="119.33" class="tl">35</text>
<text x="297.10" y="135.32" class="tl">34.97</text>
<text x="297.10" y="151.32" class="tl">34.94</text>
<text x="297.10" y="167.31" class="tl">34.91</text>
<text x="297.10" y="183.30" class="tl">34.88</text>
<text x="297.10" y="199.29" class="tl">34.85</text>
<text x="297.10" y="215.28" class="tl">34.82</text>
<text x="297.10" y="231.28" class="tl">34.79</text>
<text x="297.10" y="247.27" class="tl">34.76</text>
<text x="195.50" y="14.80" class="tb">(b)</text>
<text x="228.20" y="14.80" class="tt">Salinity</text>
<text x="239.55" y="29.70" class="tt" text-anchor="middle">Stations</text>
<text x="239.55" y="272.10" class="tt" text-anchor="middle">Distance, km</text>
<text class="tt" text-anchor="middle" transform="translate(170.80,140.15) rotate(-90)">Depth, m</text>
<clipPath id="clipc"><rect x="356.50" y="44.30" width="83.90" height="207.70"/></clipPath>
<g clip-path="url(#clipc)" stroke="#1a1a1a" stroke-width="0.9" fill-rule="evenodd">
<rect x="354.50" y="42.30" width="87.90" height="211.70" fill="#1858a0" stroke="none"/>
<path fill="#2870b0" d="M354.7,42.5l87.5,0 0,211.3 -87.5,0 0-211.3z"/>
<path fill="#4088c0" d="M354.7,42.5l87.5,0 0,211.3 -87.5,0 0-211.3zM396.7,58.7l-.3,.1 1.2,0 -.9-.1z"/>
<path fill="#5c9ccc" d="M354.7,42.5l87.5,0 0,211.3 -87.5,0 0-211.3zM396.3,57.5l-2.4,.5 -.7,.4 -.1,.4 .4,.5 1,.4 2.2,.3 2.6-.3 .9-.4 .4-.5 -.2-.4 -1.2-.6 -2.9-.3z"/>
<path fill="#78b0d8" d="M354.7,42.5l87.5,0 0,211.3 -87.5,0 0-211.3zM393.8,56.6l-1.9,.5 -1.5,.8 -.5,.5 0,.4 .2,.5 1.3,.8 1.6,.5 2.3,.4 2.4,0 2-.2 1.9-.5 1.2-.6 .6-.9 -.3-.8 -.7-.5 -2.2-.8 -3-.3 -3.4,.2z"/>
<path fill="#94c4e0" d="M354.7,42.5l87.5,0 0,211.3 -87.5,0 0-211.3zM392.3,55.7l-2.9,.7 -1.9,.9 -1.1,1.1 .1,.9 1.4,1 3,1 3.4,.6 3.4,.1 3.4-.3 2.5-.7 1.8-.8 .5-.5 .4-.9 -.3-.8 -1.1-.9 -1.3-.6 -2-.6 -4.4-.6 -2.4,.1 -2.5,.3z"/>
<path fill="#b0d4ea" d="M354.7,42.5l87.5,0 0,211.3 -87.5,0 0-211.3zM393.8,54.4l-4.9,.8 -3.9,1.3 -2.4,1.5 -.4,.4 -.1,.9 .7,.9 .8,.4 3.9,1.2 4.8,.9 4.9,.3 4.4-.3 3.6-.8 2.8-1.3 1.1-1.3 0-.9 -.2-.4 -.9-.9 -1.5-.9 -1.9-.8 -2.5-.6 -2.9-.4 -2.5-.1 -2.9,.1z"/>
<path fill="#c8e0f0" d="M354.7,42.5l87.5,0 0,211.3 -87.5,0 0-211.3zM391.9,53.5l-6.4,1.3 -5.3,1.8 -2.3,1.4 -.5,.8 0,.9 .6,.9 .5,.4 1.1,.6 2,.5 9.8,1.5 6.3,.4 5.4-.4 4.4-1.1 3-1.5 1-.8 .5-.9 .1-.9 -.2-.4 -1.3-1.4 -2.1-1.1 -3.2-1.1 -3.2-.7 -3.4-.4 -3.4-.1 -3.4,.3z"/>
<path fill="#dceaf4" d="M354.7,42.5l87.5,0 0,211.3 -87.5,0 0-163.4 1-2 .2-1.8 -.3-1.7 -.9-2.1 0-40.3zM396.7,52.2l-3.9,.2 -4.4,.6 -4.4,1 -5.8,1.6 -2.5,1 -1.3,.9 -.7,.9 0,1.3 .8,1.3 1.1,.9 1.6,.9 1.6,.4 2.3,.4 11.2,1.1 5.9,.2 5.9-.4 5.3-1.3 2.1-.8 1.5-.9 1.1-.9 .8-1.3 0-1.3 -.5-.9 -1.5-1.2 -2-.9 -3.4-1.1 -3.9-1 -3.4-.5 -3.5-.2z"/>
<path fill="#eef4f8" d="M430.8,43.4l2.6-.3 2.9,.2 3,.5 2.9,.9 0,209.1 -87.5,0 0-144.5 3.4-.7 2.5-1 1.4-.7 1-1.1 2.6-3.7 .5-.9 .2-.9 -1.9-12.4 -3.7-11.9 -.2-1.3 .3-1.3 .7-1.3 1.3-1.4 1.7-1.2 3.1-1.8 1-.9 1.7-2.1 1.5-1.2 .5-.2 1.5,1.2 .9,.2 .6-.1 .5-.5 .9,0 .5,.2 3.4,.5 5.4,.2 8.3,.7 4.9,.1 4.4-.3 5.4-.9 2.8-.9 2.1-.9 1.5-.9 1.6-1.3 .8-1.3 .1-.9 -.5-1.3 -.8-.9 -1.3-.9 -1.9-.9 -8.8-2.3 -3.5-.5 -3.4-.3 -3.9,.1 -4.4,.5 -4.3,.8 -7.8,1.7 -2.6,.9 -1.4,.7 -1.5,1.1 -1,1.1 -4.4-.7 -2.4,.1 -9.3-.7 0-9.5 2.4-.5 2.5-.2 6.3,.9 4.9,.1 3-.7 5.8-2.6 2-.4 1.9-.2 3.5,.4 7.3,1.9 3.4,.5 2.9-.3 6.4-1.8 3.4-.2 2.5,.4 5.3,1.9 2,.3 2.4-.5 5.4-2.2 2.8-.8z"/>
<path fill="#fcf4ee" d="M429.6,47.8l2.3-.4 3,.1 3.1,.8 4.2,1.5 0,204 -87.5,0 0-137.2 2-.4 1.4-.5 12.1-5.7 1.1-1.3 1.1-2.2 1.4-2.2 .7-1.8 -.2-1.3 -2.8-9.7 -4.6-7.2 -.5-1.2 -.2-4.9 -.7-1.7 -.2-.9 .2-1.3 .6-.9 1.2-.9 3.5-1.8 2.5-.7 6.3-1.6 2.3-.7 .5-.5 .1-1.3 12.3,.7 6.3,0 3.5-.3 3.9-.6 2.9-.7 2.9-1 3.3-1.6 2-1.8 .6-1 .2-1.2 -.1-.9 -.5-.9 -1.3-1.3 -2.5-1.3 -2.7-.9 -8-1.8 -1.1-.4 3.3-1.8 2.4-.4 2.1,.4 5.3,2.5 1.9,.3 1.5,0 2.4-.7 4.5-2.5 2-.9zM435.8,72.9l-1.1,.5 -.5,.4 -.1,.5 .3,.5 1,.6 1.4,.2 1.5-.2 1-.5 .4-.6 0-.5 -.4-.4 -.8-.4 -1.2-.3 -1.5,.2zM362.8,50.0l3.1,.2 3,.9 1.7,1.1 .3,.9 -.1,.4 -.9,.9 -2,.9 -2,.5 -2.4,.1 -2.4-.2 -2-.5 -1.8-.8 -.8-.9 -.1-.8 .3-.5 1-.9 2.4-.9 2.7-.4zM380.2,50.0l1.4-.3 1.5,.2 3.6,1.4 -1.2,.1 -.6,.4 -3.8,.6 -.6,.3 -1,0 -.2-1.4 .3-.7 .6-.6z"/>
<path fill="#fce4d4" d="M360.7,51.3l2.3-.4 2.5,.2 1.9,.7 .6,.4 .4,.9 -.6,.9 -1.9,.8 -1.9,.3 -2.5-.2 -2.2-.9 -.6-.9 .4-.9 1.6-.9zM434.5,51.8l3.8-.2 3.9,.7 0,18.4 -2-.6 -2.4-.3 -2.4,0 -2,.2 -2,.5 -1.4,.7 -1.2,.9 -.8,1.3 .2,2.6 .2,.5 1.6,1.4 1.9,.8 2,.3 1.9-.2 3.5-.7 2.9-1 0,176.7 -87.5,0 0-131.2 3.4-.6 6.4-1.9 14.6-7.7 .7-.6 .5-.9 3.4-8 0-.8 -.3-.9 -1.3-2.7 -2.3-5.7 -6.8-8.8 -.5-.9 -.1-1.8 -2.1-1.7 -1.1-1.4 -.8-1.7 .1-1.3 .4-.9 1-1 1-.8 1.8-.9 3.5-1.1 4.4-1 4.9-1.8 2.4-.5 15.3,0 11.1,.9 1.3,0 2.8-2.2 5.2-2.9 1.4-1.1 1.1-1.8 .7-2.6 .5-.9 .5-.8 1.7-1.8 1.5-1.1 .9-.4 2.6-.7z"/>
<path fill="#fad4bc" d="M361.7,52.2l1.3-.3 1.5,0 1,.3 .6,.5 .2,.4 -.3,.4 -1,.6 -1,.1 -1.5-.1 -1.3-.6 -.3-.4 .1-.4 .7-.5zM435.3,53.1l3.5-.1 3.4,.7 0,13.3 -2,.4 -1.9,0 -2.2-.2 -1.7-.4 -1.5-.6 -1.5-1 -1.2-1.1 -.9-1.3 -.5-1.3 -.3-1.8 .3-1.7 .7-1.4 1.1-1.3 1.3-1 1.5-.7 1.9-.5zM392.3,68.1l6.9,.1 7.3,.5 7.3,.9 5.4,1 3.5,1 1.4,.7 .9,.7 .3,1.3 0,1.7 -1,1.4 -2.3,1.7 -2.7,1.3 -2.5,.9 -4.4,1 -5.9,1 -13.8,1.6 1.9,4.8 1.8,2.7 -.4,.4 -.7-.1 -1.5-1.7 -1.1-.8 -10-5.3 -1.4-1.4 -3.6-1.3 -2.5-1.3 -1.4-1.2 -1.8-1.9 -.4-.9 -.2-.9 .2-1.3 .7-.9 1-.7 1.4-.7 6.4-1.8 5.4-1.9 2.4-.4 3.4-.2zM441.3,80.4l.9-.1 0,3.4 -1.5,.3 -.5-.1 -.4-.8 -.1-1.8 .1-.4 1.5-.5zM439.1,89.7l.7-.3 .9,.1 1.5,1.2 0,163.1 -61.5,0 -6-3.7 -6.3-2.9 -8.8-2.9 -2.5-.5 -2.4-.3 0-112.3 2.9-.7 7.4-2.5 14.6-3.7 12.2-5.5 1.5-.9 .3-.4 .6-2.2 .8-1.8 0-1.3 -1.7-2.7 -2-2.1 -.5-.9 -.1-.9 .4-.9 2.2-2.5 3.5-6.3 .3-.9 0-2.2 3.1-.8 3.4-.3 2.9,.1 6.4,.7 1.9,0 19.8-1.5 1.7-.4 1.6,0 1.2-.9z"/>
<path fill="#f8c0a0" d="M363.0,53.1l.5-.2 .6,.2 -.6,.2 -.5-.2zM436.2,54.4l3.1,0 2.9,.9 0,9.7 -2.9,.7 -2,0 -1.5-.3 -1.4-.6 -1.5-.8 -1-.9 -.8-1.2 -.4-1.3 -.1-1.3 .4-1.3 .5-.9 .7-.9 1.2-.8 1.5-.7 1.3-.3zM389.7,69.4l4.6-.1 6.3,.3 5.9,.5 5.4,.8 3.9,.9 2.9,1.2 1.2,.8 .3,.5 .1,.9 -.6,1.3 -1.4,1.3 -2.5,1.2 -3,1 -4.3,1 -4.9,.9 -5.9,.7 -5.4,.4 -5.8-.2 -2.5-.3 -2.4-.6 -2.9-1.1 -2-1.1 -1.5-1.3 -.9-1.5 -.3-.9 .2-.8 .7-.9 1.4-.9 9.2-3.2 4.2-.8zM438.9,91.9l.9-.3 .4,0 2,1.6 0,160.6 -28.3,0 -7.4-5.8 -7.3-5 -7.3-4.4 -6.9-3.6 -5.4-2.2 -4.9-1.6 -11.2-2.8 -5.4-1.5 -3.4-.5 0-84.4 17.6-3.9 18.6-4.6 18.1-7.2 .6-.4 .7-.9 2.1-3.9 2.1-3.2 .4-1.3 -.6-1.1 -1.4-1.5 -3.9-5.2 -1.5-1.7 -2.5-2.1 -.3-.7 0-.5 .3-.4 .6-.5 2.9-1.1 5.1-2.8 1.7-.8 18.6-5.3 2.9-.8 2.1-.2z"/>
<path fill="#f4a888" d="M437.5,55.8l1.3,0 1.4,.3 2,.9 0,5.9 -.5,.3 -1,.4 -1.4,.3 -2.5-.1 -1.9-.8 -.9-.6 -.8-.9 -.4-.9 -.1-.9 .1-.9 .6-1.1 1-.9 1-.6 2.1-.4zM388.8,70.7l3.5-.2 4.4,.1 5.4,.3 4.4,.6 3.4,.8 2.5,.8 1.6,1.2 .2,.9 -.3,.8 -1,1 -1.5,.8 -2.9,1.1 -6.4,1.3 -8.8,1 -5.4,.1 -3.9-.5 -2.4-.8 -2.5-1 -1.1-.8 -.7-.8 -.3-.9 .2-.9 .5-.7 .8-.6 6.5-2.7 3.8-.9zM437.3,95.9l1-.3 1.5,.3 2.4,2.8 0,147 -14-8.7 -13.3-7.5 -13.8-7 -19-9 -3.4-1.3 -2.5-.6 -7.8-1.3 -13.7-1.8 0-56.9 3.4-1 23.5-7.6 23-10.7 6.3-3.4 2-1.7 5.7-6.6 .5-1.3 .7-4.4 .6-1.4 14.7-13.2 1.6-1.8 -.1-1.7 .7-.9z"/>
<path fill="#f09070" d="M436.6,57.5l1.2-.3 1,0 1,.2 .9,.5 .6,.5 .4,.9 -.2,1.3 -.8,.9 -1.4,.6 -1.5,0 -1.7-.6 -.9-.9 -.2-1.3 .4-.9 1.2-.9zM388.4,72.1l2.5-.3 3.4-.1 4.4,.2 3.4,.4 2.5,.4 2.1,.7 1.4,.9 .3,.9 -.4,.7 -.7,.6 -1.3,.7 -1.9,.7 -4.4,.9 -6.4,.6 -4.4,.1 -3.4-.4 -2.6-.9 -.8-.4 -1-.9 -.1-.4 .2-.9 1.4-1.3 2.6-1.3 3.2-.9zM435.2,110.4l3.6-.2 3.4,.3 0,104.5 -18.1-6.6 -11.2-3.6 -8.8-2.5 -14.7-3.5 -31.3-9.6 -3.4-.4 0-25.7 50.3-10.4 3-.4 1-.4 .9-.9 14.8-22.5 .6-1.7 1.3-8.4 .8-2.2 1.1-2.2 1-1.4 1-.8 1.9-.8 2.8-.6z"/>
<path fill="#e87858" d="M437.7,58.8l.6-.1 .8,.1 .5,.5 -.1,.4 -.7,.6 -1-.1 -.5-.5 0-.4 .4-.5zM392.3,73.0l4.4,0 3.6,.4 1.7,.4 .8,.5 .3,.4 0,.5 -1,.8 -1.9,.7 -2.5,.5 -3.4,.3 -2.9,.1 -2.5-.3 -1.9-.5 -1.1-.8 -.2-.4 .5-.9 1.3-.8 1.9-.6 2.9-.3zM389.0,165.6l3.3-.3 3.5,.6 2.9,1.1 2.2,1.7 .8,.8 .8,1.4 .4,2.2 -.4,2.2 -.8,1.3 -.8,.9 -1.7,1.3 -2.5,1.2 -2.4,.6 -2.4,.2 -3-.2 -2.4-.6 -2.5-1.1 -1.8-1.4 -1.4-1.8 -.6-1.7 .1-1.8 .6-1.8 1.5-1.7 1.7-1.4 2.4-1.1 2.5-.6z"/>
<path fill="#e06048" d="M393.9,74.3l2.8-.1 1,.1 .7,.4 -.3,.5 -1.8,.3 -2,0 -1.3-.3 -.2-.5 1.1-.4zM390.2,171.3l1.2-.3 1.4,.3 .9,.9 0,.9 -.4,.5 -1,.6 -.9,.1 -1.2-.3 -.6-.5 -.4-.9 .4-.9 .6-.4z"/>
</g>
<path fill="#cbcbcb" stroke="#333" stroke-width="0.9" d="M440.40,92.66L439.20,93.26L427.81,106.31L422.66,115.81L415.71,133.31L407.68,147.56L399.41,163.58L398.21,171.59L369.92,210.16L356.98,252.00L440.40,252.00Z"/>
<rect x="356.50" y="44.30" width="83.90" height="207.70" fill="none" stroke="#444" stroke-width="0.7"/>
<line x1="351.30" x2="356.50" y1="44.30" y2="44.30" stroke="#111" stroke-width="0.9"/>
<text x="347.90" y="47.70" class="tl" text-anchor="end">0</text>
<line x1="351.30" x2="356.50" y1="73.97" y2="73.97" stroke="#111" stroke-width="0.9"/>
<text x="347.90" y="77.37" class="tl" text-anchor="end">100</text>
<line x1="351.30" x2="356.50" y1="103.64" y2="103.64" stroke="#111" stroke-width="0.9"/>
<text x="347.90" y="107.04" class="tl" text-anchor="end">200</text>
<line x1="351.30" x2="356.50" y1="133.31" y2="133.31" stroke="#111" stroke-width="0.9"/>
<text x="347.90" y="136.71" class="tl" text-anchor="end">300</text>
<line x1="351.30" x2="356.50" y1="162.99" y2="162.99" stroke="#111" stroke-width="0.9"/>
<text x="347.90" y="166.39" class="tl" text-anchor="end">400</text>
<line x1="351.30" x2="356.50" y1="192.66" y2="192.66" stroke="#111" stroke-width="0.9"/>
<text x="347.90" y="196.06" class="tl" text-anchor="end">500</text>
<line x1="351.30" x2="356.50" y1="222.33" y2="222.33" stroke="#111" stroke-width="0.9"/>
<text x="347.90" y="225.73" class="tl" text-anchor="end">600</text>
<line x1="351.30" x2="356.50" y1="252.00" y2="252.00" stroke="#111" stroke-width="0.9"/>
<text x="347.90" y="255.40" class="tl" text-anchor="end">700</text>
<line x1="356.50" x2="356.50" y1="252.00" y2="254.50" stroke="#111" stroke-width="0.9"/>
<text x="356.50" y="264.30" class="tl" text-anchor="middle">0</text>
<line x1="380.47" x2="380.47" y1="252.00" y2="254.50" stroke="#111" stroke-width="0.9"/>
<text x="380.47" y="264.30" class="tl" text-anchor="middle">20</text>
<line x1="404.44" x2="404.44" y1="252.00" y2="254.50" stroke="#111" stroke-width="0.9"/>
<text x="404.44" y="264.30" class="tl" text-anchor="middle">40</text>
<line x1="428.41" x2="428.41" y1="252.00" y2="254.50" stroke="#111" stroke-width="0.9"/>
<text x="428.41" y="264.30" class="tl" text-anchor="middle">60</text>
<line x1="356.50" x2="356.50" y1="42.10" y2="44.30" stroke="#444" stroke-width="0.6"/>
<line x1="380.47" x2="380.47" y1="42.10" y2="44.30" stroke="#444" stroke-width="0.6"/>
<line x1="404.44" x2="404.44" y1="42.10" y2="44.30" stroke="#444" stroke-width="0.6"/>
<line x1="428.41" x2="428.41" y1="42.10" y2="44.30" stroke="#444" stroke-width="0.6"/>
<line x1="440.40" x2="440.40" y1="42.10" y2="44.30" stroke="#444" stroke-width="0.6"/>
<text x="356.50" y="40.30" class="tl" text-anchor="middle">5</text>
<text x="398.45" y="40.30" class="tl" text-anchor="middle">7</text>
<text x="438.40" y="40.30" class="tl" text-anchor="middle">9</text>
<rect x="352.50" y="43.45" width="8" height="1.7" fill="#000"/>
<rect x="352.50" y="46.42" width="8" height="1.7" fill="#000"/>
<rect x="352.50" y="50.87" width="8" height="1.7" fill="#000"/>
<rect x="352.50" y="58.29" width="8" height="1.7" fill="#000"/>
<rect x="352.50" y="73.12" width="8" height="1.7" fill="#000"/>
<rect x="352.50" y="102.79" width="8" height="1.7" fill="#000"/>
<rect x="352.50" y="251.15" width="8" height="1.7" fill="#000"/>
<rect x="394.45" y="43.45" width="8" height="1.7" fill="#000"/>
<rect x="394.45" y="46.42" width="8" height="1.7" fill="#000"/>
<rect x="394.45" y="50.87" width="8" height="1.7" fill="#000"/>
<rect x="394.45" y="58.29" width="8" height="1.7" fill="#000"/>
<rect x="394.45" y="73.12" width="8" height="1.7" fill="#000"/>
<rect x="394.45" y="102.79" width="8" height="1.7" fill="#000"/>
<rect x="394.45" y="171.04" width="8" height="1.7" fill="#000"/>
<rect x="436.40" y="43.45" width="8" height="1.7" fill="#000"/>
<rect x="436.40" y="46.42" width="8" height="1.7" fill="#000"/>
<rect x="436.40" y="50.87" width="8" height="1.7" fill="#000"/>
<rect x="436.40" y="58.29" width="8" height="1.7" fill="#000"/>
<rect x="436.40" y="73.12" width="8" height="1.7" fill="#000"/>
<rect x="436.40" y="91.81" width="8" height="1.7" fill="#000"/>
<rect x="446.70" y="242.90" width="8.30" height="6.90" fill="#1858a0" stroke="#222" stroke-width="0.8"/>
<rect x="446.70" y="236.00" width="8.30" height="6.90" fill="#2870b0" stroke="#222" stroke-width="0.8"/>
<rect x="446.70" y="229.10" width="8.30" height="6.90" fill="#4088c0" stroke="#222" stroke-width="0.8"/>
<rect x="446.70" y="222.20" width="8.30" height="6.90" fill="#5c9ccc" stroke="#222" stroke-width="0.8"/>
<rect x="446.70" y="215.30" width="8.30" height="6.90" fill="#78b0d8" stroke="#222" stroke-width="0.8"/>
<rect x="446.70" y="208.40" width="8.30" height="6.90" fill="#94c4e0" stroke="#222" stroke-width="0.8"/>
<rect x="446.70" y="201.50" width="8.30" height="6.90" fill="#b0d4ea" stroke="#222" stroke-width="0.8"/>
<rect x="446.70" y="194.60" width="8.30" height="6.90" fill="#c8e0f0" stroke="#222" stroke-width="0.8"/>
<rect x="446.70" y="187.70" width="8.30" height="6.90" fill="#dceaf4" stroke="#222" stroke-width="0.8"/>
<rect x="446.70" y="180.80" width="8.30" height="6.90" fill="#eef4f8" stroke="#222" stroke-width="0.8"/>
<rect x="446.70" y="173.90" width="8.30" height="6.90" fill="#fcf4ee" stroke="#222" stroke-width="0.8"/>
<rect x="446.70" y="167.00" width="8.30" height="6.90" fill="#fce4d4" stroke="#222" stroke-width="0.8"/>
<rect x="446.70" y="160.10" width="8.30" height="6.90" fill="#fad4bc" stroke="#222" stroke-width="0.8"/>
<rect x="446.70" y="153.20" width="8.30" height="6.90" fill="#f8c0a0" stroke="#222" stroke-width="0.8"/>
<rect x="446.70" y="146.30" width="8.30" height="6.90" fill="#f4a888" stroke="#222" stroke-width="0.8"/>
<rect x="446.70" y="139.40" width="8.30" height="6.90" fill="#f09070" stroke="#222" stroke-width="0.8"/>
<rect x="446.70" y="132.50" width="8.30" height="6.90" fill="#e87858" stroke="#222" stroke-width="0.8"/>
<rect x="446.70" y="125.60" width="8.30" height="6.90" fill="#e06048" stroke="#222" stroke-width="0.8"/>
<rect x="446.70" y="118.70" width="8.30" height="6.90" fill="#d83838" stroke="#222" stroke-width="0.8"/>
<rect x="446.70" y="111.80" width="8.30" height="6.90" fill="#c8102a" stroke="#222" stroke-width="0.8"/>
<text x="457.80" y="122.20" class="tl">10.8</text>
<text x="457.80" y="142.90" class="tl">10.2</text>
<text x="457.80" y="163.60" class="tl">9.6</text>
<text x="457.80" y="184.30" class="tl">9</text>
<text x="457.80" y="205.00" class="tl">8.4</text>
<text x="457.80" y="225.70" class="tl">7.8</text>
<text x="457.80" y="246.40" class="tl">7.2</text>
<text x="344.00" y="14.80" class="tb">(c)</text>
<text x="363.60" y="14.80" class="tt">Dissolved oxygen</text>
<text x="396.85" y="29.70" class="tt" text-anchor="middle">Stations</text>
<text x="396.85" y="272.10" class="tt" text-anchor="middle">Distance, km</text>
<text class="tt" text-anchor="middle" transform="translate(327.90,140.15) rotate(-90)">Depth, m</text>
<clipPath id="clipd"><rect x="44.30" y="312.40" width="83.60" height="208.20"/></clipPath>
<g clip-path="url(#clipd)" stroke="#1a1a1a" stroke-width="0.9" fill-rule="evenodd">
<rect x="42.30" y="310.40" width="87.60" height="212.20" fill="#fafac4" stroke="none"/>
<path fill="#e4f8b8" d="M42.5,310.6l87.2,0 0,178.8 -2-2.3 -4-6.3 -12.1-20.8 -4.6-7 -3.2-4 -3-3.1 -3.2-2.7 -3.5-2.2 -2.9-1.2 -2.9-.4 -28.3,.9 -17.5,.8 0-67.5 .5,.2 1-.1 .5-.3 .1-.4 -.6-.5 -.5-.1 -1,.3 0-62.1z"/>
<path fill="#d0f8b0" d="M42.5,310.6l87.2,0 0,137.2 -1-.6 -7.9-6.6 -6.3-4.4 -6.7-3.7 -3.4-1.4 -3.4-1.2 -5.4-1.3 -14.1-2.4 -22.4-3.1 -16.6-1.7 0-45.3 2-.1 1.4-.5 1.5-1.1 .4-1 -.1-.9 -1.3-1.1 -1.9-.6 -2,0 0-60.2z"/>
<path fill="#bef6a6" d="M42.5,310.6l87.2,0 0,119.7 -7.8-4.2 -5.4-2.5 -5.8-2.3 -6.3-2 -22-5.3 -36.5-7.8 -3.4-.4 0-23.4 1.5-1.7 1.7-2.9 2.2-.9 1.9-1.5 .7-1.1 .2-1.3 -.5-1.4 -1.9-1.3 -2.9-.9 -2.9-.2 0-58.6z"/>
<path fill="#acf69a" d="M42.5,310.6l87.2,0 0,106.9 -8.3-3.2 -7.3-2.5 -13.8-4.4 -16.4-4.5 -16.1-5.2 -10.7-4.4 -1.8-1.3 -1.9-2.2 -1-1.8 -.2-1.8 .9-5.7 2.1-5.8 0-1.3 -.5-1.8 -1.2-1.7 -1.4-.9 -6.2-1.9 -3.4-.5 0-56zM128.7,334.7l-.4,.2 .4,.5 .5-.1 .2-.4 -.7-.2z"/>
<path fill="#9af48c" d="M42.5,310.6l87.2,0 0,21.7 -2.9-.2 -2.5,.5 -1.6,1 -.4,.4 -.3,.9 .1,.9 .5,.9 .8,.8 .9,.6 2.5,.6 2.9-.2 0,68.3 -8.3-2.2 -13.1-2.9 -8.5-2.7 -9.1-2.3 -8.7-1.6 -8.3-1.8 -2.5-.9 -6.8-3.4 -1.9-1.5 -.9-1.3 -1.4-2.6 -.7-2.2 .1-1.8 .9-4.9 -.1-1.7 -2.8-5.2 -1.4-1 -1.5-.6 -8.8-1.9 -3.4-.3 0-53.4z"/>
<path fill="#88f27e" d="M42.5,310.6l87.2,0 0,19.3 -2.4-.3 -2.5,.1 -1.9,.3 -2,.5 -1.7,.9 -1.2,1 -.9,1.2 -.3,1.3 .2,1.8 .7,1.3 1.3,1.5 1.7,1.2 2.2,.8 1.9,.3 2,.1 2.9-.4 0,55.7 -5.4-1 -3.4-.5 -10.7-.2 -4.4-.4 -10.2-1.8 -5.4-1.7 -1.4-.3 -2,.1 -3.9,.8 -1.9,0 -2-.2 -2.9-.8 -2.6-1 -5.5-3.1 -2.1-1.6 -1.2-1.5 -.9-2.2 -.8-8 -.9-3.9 -.2-2.3 -.2-.8 -.7-.9 -1.9-1.4 -3-.9 -10.2-1.9 -3.4-.3 0-50.8z"/>
<path fill="#77f070" d="M42.5,310.6l87.2,0 0,16.9 -3.4-.3 -2.9,.1 -3,.5 -2.7,.9 -2.3,1.4 -1.7,1.7 -1,1.8 -.3,1.8 .4,2.2 1.3,2.2 2,2 2.4,1.6 2.4,1 2.5,.5 2.9,0 3.4-.5 0,43.7 -6.8-.9 -4.4-.2 -3.4,.4 -6.4,1.7 -11.2,1.5 -2.4,0 -3.4-.8 -2.9-1.1 -3.9-1.8 -4.7-2.9 -4.6-2.5 -2.4-1.9 -2.2-2.2 -1-1.4 -1.2-3.9 -1.3-3.1 -.6-.7 -1.7-1.1 -1.8-2.2 -1.9-1.7 -4.4-2.2 -1.9-.8 -9.3-1.5 -3.4-.3 0-47.9z"/>
<path fill="#66f066" d="M42.5,310.6l87.2,0 0,14.6 -4.4-.3 -3.9,.2 -3.4,.7 -2.9,1.2 -2.6,1.7 -2.1,2.3 -1.5,2.6 -.3,2.2 .2,1.3 .4,1.4 1.6,2.6 2.7,2.7 3.5,2.3 3,1.3 2.4,.5 2.9,0 4.4-.6 0,32.4 -5.9-.2 -5.8,.3 -2.4,.3 -2.5,.7 -11.2,4.5 -2.4,.6 -6.8-.1 -6.8-1 -2-.8 -7.1-4.4 -2.6-2 -1.5-2.4 -3.4-7.7 -2.9-4.6 -1.5-1.4 -6.3-3.2 -2-.8 -10.7-1.7 -3.4-.2 0-45z"/>
<path fill="#55f055" d="M42.5,310.6l87.2,0 0,12.4 -4.9-.3 -4.4,.2 -3.9,.8 -2.9,1.1 -2.9,2 -2.4,2.6 -1.4,2 -.9,1.8 -.4,1.3 -.2,1.3 .2,1.8 .5,1.8 .9,1.7 1.4,1.8 1.3,1.3 2.2,1.8 5.6,3.5 2.5,1.2 1.9,.4 7.8-1 0,20 -4.9-1.2 -2.1,.1 -.9,.4 -2,2.2 -1.2,.9 -13.3,7.1 -1.9,.5 -5.6,.8 -6.1,.7 -1.9-.1 -2.4-1 -3.1-2.2 -2.3-.8 -3.4-1.5 -1.3-.8 -1-.9 -1-1.8 -.3-1.8 .5-1.3 1.1-1.3 0-.2 -1.1-2.5 -1-1.7 -3.1-4 -1.6-1.2 -2-.9 -10.2-3.2 -11.7-1.5 -3.4-.2 0-42.1z"/>
<path fill="#44f044" d="M42.5,310.6l87.2,0 0,10.2 -5.4-.4 -4.8,.3 -4.4,.9 -3.4,1.5 -1.9,1.2 -1.5,1.3 -2.5,3.1 -2.3,4.5 -.5,1.7 -.1,1.8 .1,2.2 .6,2.2 1.2,2.2 1.4,1.8 2.7,2.2 5.9,3.5 3.9,2.7 1.3,.6 .9,.1 5.4-.9 3.4-.4 0,10 -17.2-4.5 -2.8-.6 -2.4-.1 -9.3,.4 -7.8,0 -1.4-.1 -2.5-1 -6.8-4.2 -2.4-.7 -15.6-1 -15.6-1.2 -3.4,0 0-39.3zM93.0,365.4l3.1,.1 3.4,.4 3.4,.8 2.8,.9 2.1,1.1 1.5,1.2 .8,1.3 -.2,1.3 -1,1.3 -1.1,.9 -1.5,.9 -1.9,.8 -4.9,1 -5.9,.4 -3.8-.3 -5.1-1.5 -2-.8 -1.5-.9 -1-.9 -.6-.9 -.3-1.3 .3-.9 1.1-1.3 1.7-1.2 2.5-1 2.4-.7 2.9-.5 2.8-.2z"/>
<path fill="#34f034" d="M68.6,310.6l61.1,0 0,8 -6-.5 -4.2-2.1 -2-.6 -1.9-.4 -1.5,0 -1.5,.3 -1.3,.6 -1,.9 -1.1,1.9 -1,3.4 -2.9,3.1 -1.7,2.7 -2.1,4.4 -.8,2.6 -.5,4 .3,3.1 1,2.7 2.1,3.1 -.2,.4 -6.8-2.6 -2-.4 -12.6,1.3 -19,1.3 -17.1-.8 -3.4,0 0-35.2 3.9,1.7 3.4,.9 3.9,.4 9.3,.3 1.9-.3 1.2-.6 1.2-1.5 1.3-2.1zM103.4,348.2l.6,0 -.1,.2 -.5-.2zM104.2,348.6l.2,0 0,.2 -.2-.2zM104.7,349.1l.2,0 0,.1 -.2-.1zM105.2,349.5l.6,0 1.5,1 4.6,2.1 3.7,2.3 -1,.2 -1-.1 -3.9-1.2 -1.7-1.2 -2.8-3.1zM123.2,356.6l3.1-.4 3.4,0 0,2.3 -2.4,.1 -2-.4 -1.8-.7 -.4-.5 .1-.4zM90.2,367.6l2.5-.2 2.9,0 2.9,.4 2.5,.6 1.9,.7 1.5,.9 .8,1.2 0,.9 -.9,1.3 -2.4,1.3 -3.4,.8 -3.4,.4 -2.9-.1 -2.9-.5 -2.8-1 -2-1.3 -.6-.9 -.2-.9 .4-.9 .4-.4 2.3-1.4 3.4-.9z"/>
<path fill="#24f024" d="M84.3,322.6l5.5-.1 5.3,.7 2,.6 1.2,1 2,3.5 -.2,.9 -1.7,4.4 -.4,1.4 -.5,.9 -.9,1.1 -1.5,.9 -6.7,2.8 -2.1,.4 -4.8,.6 -12.7,1.3 -8.8,.2 -17.5-.1 0-7 1.5-.3 .9-.4 6.9-5.9 9.2-4.9 1.5-.6 1.4-.4 7.3-.7 13.1-.3zM92.0,369.4l3.1,0 2.4,.4 1.4,.5 .7,.4 .3,.5 .1,.4 -.6,.9 -.9,.5 -1.9,.6 -2,.2 -1.9,0 -2-.3 -1.4-.6 -1.1-.8 -.2-.9 .8-.8 1.4-.6 1.8-.4z"/>
<path fill="#12f012" d="M82.3,327.0l4-.2 3.5,.3 2.8,.8 .5,.4 .1,.4 -.3,.5 -.7,.4 -1.7,.5 -2.7,.4 -2.9,.1 -2.9-.2 -2.3-.3 -1.4-.5 -.7-.4 -.2-.5 .3-.4 .9-.5 1.4-.5 2.3-.3zM92.6,371.6l.6-.2 .4,.2 -1,0z"/>
<path fill="#00f000" d="M84.3,328.3l1.1-.2 1.4,.1 .6,.1 .1,.4 -1.2,.3 -1.4-.1 -.8-.2 .2-.4z"/>
</g>
<path fill="#cbcbcb" stroke="#333" stroke-width="0.9" d="M127.90,360.88L126.71,361.48L115.36,374.56L110.22,384.08L103.30,401.63L95.30,415.91L87.06,431.97L85.86,440.00L57.68,478.66L44.78,520.60L127.90,520.60Z"/>
<rect x="44.30" y="312.40" width="83.60" height="208.20" fill="none" stroke="#444" stroke-width="0.7"/>
<line x1="39.10" x2="44.30" y1="312.40" y2="312.40" stroke="#111" stroke-width="0.9"/>
<text x="35.70" y="315.80" class="tl" text-anchor="end">0</text>
<line x1="39.10" x2="44.30" y1="342.14" y2="342.14" stroke="#111" stroke-width="0.9"/>
<text x="35.70" y="345.54" class="tl" text-anchor="end">100</text>
<line x1="39.10" x2="44.30" y1="371.89" y2="371.89" stroke="#111" stroke-width="0.9"/>
<text x="35.70" y="375.29" class="tl" text-anchor="end">200</text>
<line x1="39.10" x2="44.30" y1="401.63" y2="401.63" stroke="#111" stroke-width="0.9"/>
<text x="35.70" y="405.03" class="tl" text-anchor="end">300</text>
<line x1="39.10" x2="44.30" y1="431.37" y2="431.37" stroke="#111" stroke-width="0.9"/>
<text x="35.70" y="434.77" class="tl" text-anchor="end">400</text>
<line x1="39.10" x2="44.30" y1="461.11" y2="461.11" stroke="#111" stroke-width="0.9"/>
<text x="35.70" y="464.51" class="tl" text-anchor="end">500</text>
<line x1="39.10" x2="44.30" y1="490.86" y2="490.86" stroke="#111" stroke-width="0.9"/>
<text x="35.70" y="494.26" class="tl" text-anchor="end">600</text>
<line x1="39.10" x2="44.30" y1="520.60" y2="520.60" stroke="#111" stroke-width="0.9"/>
<text x="35.70" y="524.00" class="tl" text-anchor="end">700</text>
<line x1="44.30" x2="44.30" y1="520.60" y2="523.10" stroke="#111" stroke-width="0.9"/>
<text x="44.30" y="532.90" class="tl" text-anchor="middle">0</text>
<line x1="68.19" x2="68.19" y1="520.60" y2="523.10" stroke="#111" stroke-width="0.9"/>
<text x="68.19" y="532.90" class="tl" text-anchor="middle">20</text>
<line x1="92.07" x2="92.07" y1="520.60" y2="523.10" stroke="#111" stroke-width="0.9"/>
<text x="92.07" y="532.90" class="tl" text-anchor="middle">40</text>
<line x1="115.96" x2="115.96" y1="520.60" y2="523.10" stroke="#111" stroke-width="0.9"/>
<text x="115.96" y="532.90" class="tl" text-anchor="middle">60</text>
<line x1="44.30" x2="44.30" y1="310.20" y2="312.40" stroke="#444" stroke-width="0.6"/>
<line x1="68.19" x2="68.19" y1="310.20" y2="312.40" stroke="#444" stroke-width="0.6"/>
<line x1="92.07" x2="92.07" y1="310.20" y2="312.40" stroke="#444" stroke-width="0.6"/>
<line x1="115.96" x2="115.96" y1="310.20" y2="312.40" stroke="#444" stroke-width="0.6"/>
<line x1="127.90" x2="127.90" y1="310.20" y2="312.40" stroke="#444" stroke-width="0.6"/>
<text x="44.30" y="309.80" class="tl" text-anchor="middle">5</text>
<text x="86.10" y="309.80" class="tl" text-anchor="middle">7</text>
<text x="125.90" y="309.80" class="tl" text-anchor="middle">9</text>
<rect x="40.30" y="311.55" width="8" height="1.7" fill="#000"/>
<rect x="40.30" y="314.52" width="8" height="1.7" fill="#000"/>
<rect x="40.30" y="318.99" width="8" height="1.7" fill="#000"/>
<rect x="40.30" y="326.42" width="8" height="1.7" fill="#000"/>
<rect x="40.30" y="341.29" width="8" height="1.7" fill="#000"/>
<rect x="40.30" y="371.04" width="8" height="1.7" fill="#000"/>
<rect x="40.30" y="519.75" width="8" height="1.7" fill="#000"/>
<rect x="82.10" y="311.55" width="8" height="1.7" fill="#000"/>
<rect x="82.10" y="314.52" width="8" height="1.7" fill="#000"/>
<rect x="82.10" y="318.99" width="8" height="1.7" fill="#000"/>
<rect x="82.10" y="326.42" width="8" height="1.7" fill="#000"/>
<rect x="82.10" y="341.29" width="8" height="1.7" fill="#000"/>
<rect x="82.10" y="371.04" width="8" height="1.7" fill="#000"/>
<rect x="82.10" y="439.44" width="8" height="1.7" fill="#000"/>
<rect x="123.90" y="311.55" width="8" height="1.7" fill="#000"/>
<rect x="123.90" y="314.52" width="8" height="1.7" fill="#000"/>
<rect x="123.90" y="318.99" width="8" height="1.7" fill="#000"/>
<rect x="123.90" y="326.42" width="8" height="1.7" fill="#000"/>
<rect x="123.90" y="341.29" width="8" height="1.7" fill="#000"/>
<rect x="123.90" y="360.03" width="8" height="1.7" fill="#000"/>
<rect x="132.80" y="509.87" width="8.60" height="9.33" fill="#fafac4" stroke="#222" stroke-width="0.8"/>
<rect x="132.80" y="500.55" width="8.60" height="9.33" fill="#e4f8b8" stroke="#222" stroke-width="0.8"/>
<rect x="132.80" y="491.22" width="8.60" height="9.33" fill="#d0f8b0" stroke="#222" stroke-width="0.8"/>
<rect x="132.80" y="481.89" width="8.60" height="9.33" fill="#bef6a6" stroke="#222" stroke-width="0.8"/>
<rect x="132.80" y="472.57" width="8.60" height="9.33" fill="#acf69a" stroke="#222" stroke-width="0.8"/>
<rect x="132.80" y="463.24" width="8.60" height="9.33" fill="#9af48c" stroke="#222" stroke-width="0.8"/>
<rect x="132.80" y="453.91" width="8.60" height="9.33" fill="#88f27e" stroke="#222" stroke-width="0.8"/>
<rect x="132.80" y="444.59" width="8.60" height="9.33" fill="#77f070" stroke="#222" stroke-width="0.8"/>
<rect x="132.80" y="435.26" width="8.60" height="9.33" fill="#66f066" stroke="#222" stroke-width="0.8"/>
<rect x="132.80" y="425.93" width="8.60" height="9.33" fill="#55f055" stroke="#222" stroke-width="0.8"/>
<rect x="132.80" y="416.61" width="8.60" height="9.33" fill="#44f044" stroke="#222" stroke-width="0.8"/>
<rect x="132.80" y="407.28" width="8.60" height="9.33" fill="#34f034" stroke="#222" stroke-width="0.8"/>
<rect x="132.80" y="397.95" width="8.60" height="9.33" fill="#24f024" stroke="#222" stroke-width="0.8"/>
<rect x="132.80" y="388.63" width="8.60" height="9.33" fill="#12f012" stroke="#222" stroke-width="0.8"/>
<rect x="132.80" y="379.30" width="8.60" height="9.33" fill="#00f000" stroke="#222" stroke-width="0.8"/>
<text x="144.20" y="392.13" class="tl">650</text>
<text x="144.20" y="420.11" class="tl">500</text>
<text x="144.20" y="448.09" class="tl">350</text>
<text x="144.20" y="476.07" class="tl">200</text>
<text x="144.20" y="504.05" class="tl">50</text>
<text x="44.30" y="286.90" class="tb">(d)</text>
<text x="76.00" y="286.90" class="tt">Nitrate</text>
<text x="84.50" y="299.50" class="tt" text-anchor="middle">Stations</text>
<text x="84.50" y="540.70" class="tt" text-anchor="middle">Distance, km</text>
<text class="tt" text-anchor="middle" transform="translate(15.70,408.50) rotate(-90)">Depth, m</text>
<clipPath id="clipe"><rect x="199.60" y="312.40" width="83.00" height="208.20"/></clipPath>
<g clip-path="url(#clipe)" stroke="#1a1a1a" stroke-width="0.72" fill-rule="evenodd">
<rect x="197.60" y="310.40" width="87.00" height="212.20" fill="#ffffff" stroke="none"/>
<path fill="#ffffff" d="M197.8,310.6l86.6,0 0,129.2 -86.6,.2 0-129.4z"/>
<path fill="#fffefe" d="M197.8,310.6l86.6,0 0,117.9 -29.5,0 -37.3,6.4 -2.4,.4 -3.4,.2 -4.3,.5 -9.7,1.6 0-127z"/>
<path fill="#fdf9f5" d="M197.8,310.6l86.6,0 0,111.1 -29.5,.1 -39.7,8.9 -2.4,.1 -3.4,.7 -5.3,1.5 -6.3,2.3 0-124.7z"/>
<path fill="#fbf4ed" d="M197.8,310.6l86.6,0 0,25.2 -.9,.5 -.3,.4 -.1,.4 .3,.6 1,.7 0,77.6 -29.5,.1 -21.2,5 -18.5,4.9 -1.9,.2 -1.9,.4 -2.9,1 -3.4,1.4 -7.3,3.9 0-122.3z"/>
<path fill="#f8efe4" d="M197.8,310.6l86.6,0 0,23.7 -2,.5 -1.1,.6 -.9,.9 -.2,.8 .3,.9 1,1.1 1.3,.7 1.6,.4 0,70.7 -24.7,0 -4.8,.2 -1.6,.3 -20.2,4.9 -17.9,5 -1.4,.2 -2,.5 -2.9,1.2 -3.3,1.9 -3.9,2.5 -3.9,2.9 0-119.9z"/>
<path fill="#f6eadb" d="M197.8,310.6l86.6,0 0,22.3 -2.9,.5 -2.4,1.1 -1.5,1.3 -.3,1.3 .1,.9 .5,.9 1.4,1.3 2.2,1.1 2.9,.6 0,64.4 -24.2,0 -5.3,.1 -19.3,4.6 -10.2,2.7 -10.2,3 -1.4,.1 -2,.7 -2.9,1.5 -3.3,2.4 -3.9,3.1 -3.9,3.6 0-117.5z"/>
<path fill="#f4e5d5" d="M197.8,310.6l86.6,0 0,20.9 -3.9,.6 -3.4,1.3 -1.9,1.5 -.6,.9 -.3,1.3 .3,1.4 .5,.9 1.1,1.2 1.3,1 3,1.3 3.9,.7 0,58.3 -24.2,0 -5.3,.2 -19.8,4.5 -10.2,2.6 -9.7,2.9 -1.4,.1 -2.9,1.3 -3.9,2.9 -4.3,4 -4.9,5.4 0-115.2z"/>
<path fill="#f1e1cf" d="M197.8,310.6l86.6,0 0,19.5 -4.9,.7 -2.4,.7 -1.9,.8 -1.5,.9 -1.3,1.3 -.8,1.3 -.2,1.3 .4,1.8 .8,1.3 1.2,1.4 1.4,1 1.9,1 2.4,.9 2.5,.5 2.4,.3 0,52.5 -24.2,0 -5.3,.2 -20.3,4.3 -10,2.5 -9.4,2.6 -1.4,.1 -1.5,.7 -1.4,.9 -3.9,3.3 -4.3,4.8 -4.9,6.2 0-112.8z"/>
<path fill="#efddc9" d="M197.8,310.6l86.6,0 0,18.1 -3.4,.3 -2.9,.6 -2.9,.8 -2.1,1 -2.1,1.3 -1.4,1.3 -.8,1.4 -.3,1.7 .3,1.8 .9,1.8 1.6,1.7 1.8,1.4 2.6,1.3 2.4,.8 2.9,.7 3.4,.4 0,46.9 -24.2,0 -5.3,.2 -20.8,4 -9.7,2.3 -9.2,2.4 -1.4,.1 -1.5,.7 -1.4,1.1 -3.9,3.8 -4.3,5.4 -4.9,7.1 0-110.4z"/>
<path fill="#edd8c3" d="M197.8,310.6l86.6,0 0,16.7 -3.9,.3 -3.4,.6 -3.4,1 -2.9,1.3 -2.1,1.3 -1.8,1.8 -1,1.8 -.3,1.7 .4,2.3 1.2,2.2 1.7,1.8 2.4,1.7 2.7,1.3 3.1,1.1 3.4,.7 3.9,.4 0,41.5 -24.2,0 -5.3,.2 -21.3,3.8 -9.7,2 -8.7,2 -1.4,.2 -1.5,.8 -1.4,1.2 -3.9,4.2 -4.3,6.1 -4.9,8 0-108z"/>
<path fill="#ebd4bd" d="M197.8,310.6l86.6,0 0,15.3 -4.4,.4 -4.1,.7 -3.6,1 -3.4,1.4 -2.9,1.9 -1.9,1.9 -1,1.7 -.4,2.2 .5,2.7 1.2,2.2 2,2.2 2.5,1.9 3.4,1.7 3.8,1.3 3.9,.8 4.4,.4 0,36.2 -24.2,0 -5.3,.2 -21.8,3.3 -17.9,3.5 -1.4,.1 -1.5,.9 -1.4,1.3 -3.9,4.8 -4.3,6.8 -4.9,8.9 0-105.7z"/>
<path fill="#e8d0b7" d="M197.8,310.6l86.6,0 0,13.9 -4.9,.4 -4.5,.7 -4.2,1.2 -3.8,1.6 -2.9,1.7 -2.4,2.2 -1.4,2.2 -.4,1.3 -.1,1.3 .4,2.7 1.3,2.6 2.4,2.7 3,2.2 3.5,1.8 4.3,1.4 4.8,1 4.9,.5 0,31 -24.2,0 -5.3,.2 -22.7,2.9 -18.4,2.9 -1.5,1 -1.4,1.4 -2,2.4 -1.9,2.8 -4.3,7.5 -4.9,9.8 0-103.3z"/>
<path fill="#e6ccb1" d="M197.8,310.6l86.6,0 0,12.5 -5.3,.4 -5.4,.9 -4.8,1.3 -4,1.7 -3.6,2.2 -2.4,2.2 -.9,1.4 -.7,1.3 -.4,1.3 -.1,1.3 .2,1.8 .4,1.3 .8,1.8 .8,1.3 2.4,2.7 3.6,2.6 3.9,1.9 4.8,1.6 5.4,1.1 5.3,.4 0,27.9 -29.5,.1 -9.7-.4 -5.3,.1 -26.1,3.1 -1.5,1 -1.4,1.6 -2,2.6 -1.9,3.1 -4.3,8.2 -4.9,10.6 0-100.9z"/>
<path fill="#e4c8ab" d="M197.8,313.7l0-.3 86.6,0 0,8.3 -5.8,.4 -5.8,1 -5.3,1.4 -4.9,2 -3.6,2.2 -2.8,2.7 -1.7,2.6 -.4,1.4 -.2,1.7 .2,1.8 .5,1.8 .8,1.7 .9,1.6 1.3,1.5 1.6,1.6 3.9,2.7 3.8,1.9 3.7,1.4 6.5,1.1 7.3,.7 0,26 -29.5,0 -14.5-.4 -12.1-1.8 -2.4,0 -12.1,1 -1.5,1.2 -1.4,1.7 -2,2.8 -1.9,3.4 -4.3,8.8 -4.9,11.6 0-95.5z"/>
<path fill="#e1c4a5" d="M197.8,316.4l0-.4 86.6,0 0,2.5 -3.4,.5 -2.4,.8 -2,1 -6.2,1.3 -3.9,1.1 -4.4,1.6 -4.1,2.2 -2.9,2.2 -2.4,2.6 -1.3,2.7 -.4,2.6 .2,2.3 .6,1.7 .8,1.8 1.1,1.8 1.4,1.7 1.9,1.8 2.2,1.7 2.3,1.4 3.6,1.8 1.4,.3 10.1,1.6 7.8,.8 0,24.4 -29.5,.1 -15-.5 -15-2.2 -6.8-1.3 -2.4-.7 -1-.1 -.4-.3 -.5,0 -2,1.7 -.1,.5 -.8,.9 -.2,.4 -1.3,1.8 -.1,.4 -.4,.4 -2.4,4.5 -4.3,9.7 -4.4,11.3 0-90.4z"/>
<path fill="#dfc09f" d="M197.8,318.6l0-.2 .5,0 71.1,0 1.1,.2 -1.9,2.2 -6,2 -3.9,1.6 -3.6,2.1 -3.1,2.5 -2,2.4 -1.4,2.6 -.5,2.7 .3,3.1 .7,2.2 .9,1.8 1.2,1.7 1.5,1.8 3.6,3.2 2.4,1.6 2.7,1.4 14.8,2.3 8.2,.8 0,22.9 -29.5,.2 -15-.5 -15-2 -11.1-2.4 -1.6,1.2 -1.5,1.8 -2.1,3.1 -1.8,3.1 -4.4,8.8 -4.6,10.9 0-85.1z"/>
<path fill="#dcbb99" d="M197.8,320.3l65.2,0 -.1,.5 -.8,.4 -4.4,1.8 -4.2,2.2 -3,2.2 -2.3,2.2 -1.6,2.2 -1.1,2.7 -.3,2.2 .3,3.1 -.3,1.3 .2,.5 1.1,1.3 1.5,2.6 2.2,2.7 3.2,2.9 3.9,2.5 1,.3 3.8,.7 12.1,1.9 10.2,1 0,21.4 -29.5,.1 -15-.4 -15-1.9 -11.1-2.2 -1.5,1.1 -1.7,1.8 -2,2.6 -1.9,3.1 -4.2,7.5 -4.7,10 0-80.3zM237.5,324.5l-2.4,1.4 -.3,.6 .6,.5 1.1,.3 3.9,.3 .9,.3 1-.5 .5-.4 .2-.5 -.1-.4 -1.1-.8 -1.9-.6 -2.4-.2zM240.4,340.7l-3.9,.2 -.9,.2 -.5,.5 .4,.5 2.9,.8 .5,.5 3.4-.7 1.2-.7 .2-.4 -.4-.7 -1-.6 -1.9,.4z"/>
<path fill="#dab793" d="M223.3,324.8l2.6,0 2.6,.4 .3,1.3 .8,.9 .7,.5 2.4,.8 4.3,.9 1.4,2.2 .6,2.2 -.2,2.3 -1.1,2.2 -4.6,.7 -3.1,1 -.8,.5 -.8,.9 .1,.8 .8,.9 0,.2 -1.5,.4 -2.4,.3 -3.9-.1 -3.9-.8 -3.2-1.3 -2.6-1.8 -1.8-2.2 -.6-1.3 -.3-1.3 -.1-1.4 .3-1.3 1.1-2.3 2-2.1 3-1.8 3.7-1.2 4.2-.5zM197.8,336.3l4.6,12.3 4.4,10.2 2,4 1.8,3.1 1.6,2.2 1.6,1.5 .5,0 2.9-1 7.7-5.9 .5-.2 14.5-4.6 15-2.8 2.9-.2 17.4,2.6 9.2,.9 0,19.8 -29.5,.2 -15-.4 -15-1.7 -11.1-2 -1.4,.9 -1.9,1.7 -3.8,4.9 -4.3,7.1 -4.6,8.6 0-61.2z"/>
<path fill="#d8b28d" d="M197.8,340.7l4.7,11 4.3,8.9 1.8,3.1 2.1,3.1 1.9,2.2 1.2,.9 .5,0 2.9-.9 7.7-5.2 15-4.4 15-2.6 6.8-.3 14.5,2 8.2,.7 0,18.3 -29.5,.3 -15-.4 -15-1.6 -11.1-1.8 -1.4,.7 -1.6,1.3 -3.9,4.5 -4.4,6.2 -4.7,7.7 0-53.7z"/>
<path fill="#d5ae87" d="M197.8,345.1l0-.2 5.1,10.4 4.4,7.5 3.5,4.8 1.8,1.8 1.2,.8 3.4-.8 7.7-4.6 15-3.9 15-2.4 10.1-.4 2,.1 10.1,1.3 7.3,.6 0,16.8 -29.5,.2 -15-.3 -15-1.5 -11.1-1.6 -1.2,.6 -1.9,1.3 -4.1,4 -4.3,5.3 -4.5,6.4 0-46.2z"/>
<path fill="#d2a980" d="M197.8,349.5l0-.2 5.1,8.6 4.3,6.2 3.8,4.4 1.7,1.4 1.1,.5 3.4-.6 7.7-3.9 15-3.5 15-2.1 15.5-.6 14,1.3 0,15.2 -29.5,.3 -14.5-.3 -15.5-1.3 -11.1-1.4 -1.5,.5 -1.8,1.2 -3.8,3.1 -4.3,4.4 -4.6,5.4 0-38.6z"/>
<path fill="#cfa479" d="M197.8,353.9l0-.2 5,6.9 4.6,5.3 3.4,3.1 1.5,1.1 1.5,.6 3.4-.5 8.2-3.4 14.5-2.9 10.1-1.4 4.9-.5 15-.4 14.5,1.1 0,12.9 -29.5,.3 -14.5-.3 -15-1.1 -11.6-1.3 -2.8,1.1 -4.1,2.6 -4.3,3.6 -4.8,4.5 0-31.1z"/>
<path fill="#cc9f73" d="M197.8,358.4l0-.4 4.5,4.8 5,4.4 3.8,2.7 2.7,1.1 3.4-.4 8.2-2.7 14.5-2.5 10.1-1.2 5.4-.5 14.5-.3 14.5,1.2 0,10.3 -29.5,.3 -14.5-.2 -11.1-.7 -15.5-1.4 -3,.9 -3.6,1.8 -4.3,2.7 -5.1,3.6 0-23.5z"/>
<path fill="#c99a6c" d="M197.8,362.8l0-.4 4.9,3.5 5.2,3.1 3.5,1.6 2.4,.7 3.4-.3 8.2-2 14.5-2.1 10.1-1.1 5.4-.3 14.5-.2 14.5,1.1 0,7.9 -29.5,.3 -10.7-.1 -6.2-.2 -24.2-1.7 -3.3,.8 -3.8,1.3 -5.1,2.2 -3.8,1.9 0-16z"/>
<path fill="#c69565" d="M197.8,367.2l0-.4 9.7,3.4 3.8,1 2.5,.4 3.4-.2 8.2-1.4 24.6-2.6 5.4-.2 14.5,0 14.5,1 0,5.4 -34.4,.4 -10.1-.3 -26.1-1.3 -6.4,1 -9.6,2.3 0-8.5z"/>
<path fill="#c28f5c" d="M254.1,369.0l15.8,0 14.5,1 0,2.9 -34.4,.5 -36.2-1.3 -16,.5 0-1.5 17.4,.9 34.8-2.9 4.1-.1z"/>
<path fill="#be8953" d="M249.3,370.7l20.6,.2 11.9,.7 2.6,.3 0,.2 -14.5,.4 -19.9,.1 -17.3-.5 3.9-.5 12.7-.9z"/>
</g>
<path fill="#cbcbcb" stroke="#333" stroke-width="0.9" d="M282.60,360.88L281.41,361.48L270.15,374.56L265.05,384.08L258.17,401.63L250.23,415.91L242.05,431.97L240.86,440.00L212.88,478.66L200.07,520.60L282.60,520.60Z"/>
<rect x="199.60" y="312.40" width="83.00" height="208.20" fill="none" stroke="#444" stroke-width="0.7"/>
<line x1="194.40" x2="199.60" y1="312.40" y2="312.40" stroke="#111" stroke-width="0.9"/>
<text x="191.00" y="315.80" class="tl" text-anchor="end">0</text>
<line x1="194.40" x2="199.60" y1="342.14" y2="342.14" stroke="#111" stroke-width="0.9"/>
<text x="191.00" y="345.54" class="tl" text-anchor="end">100</text>
<line x1="194.40" x2="199.60" y1="371.89" y2="371.89" stroke="#111" stroke-width="0.9"/>
<text x="191.00" y="375.29" class="tl" text-anchor="end">200</text>
<line x1="194.40" x2="199.60" y1="401.63" y2="401.63" stroke="#111" stroke-width="0.9"/>
<text x="191.00" y="405.03" class="tl" text-anchor="end">300</text>
<line x1="194.40" x2="199.60" y1="431.37" y2="431.37" stroke="#111" stroke-width="0.9"/>
<text x="191.00" y="434.77" class="tl" text-anchor="end">400</text>
<line x1="194.40" x2="199.60" y1="461.11" y2="461.11" stroke="#111" stroke-width="0.9"/>
<text x="191.00" y="464.51" class="tl" text-anchor="end">500</text>
<line x1="194.40" x2="199.60" y1="490.86" y2="490.86" stroke="#111" stroke-width="0.9"/>
<text x="191.00" y="494.26" class="tl" text-anchor="end">600</text>
<line x1="194.40" x2="199.60" y1="520.60" y2="520.60" stroke="#111" stroke-width="0.9"/>
<text x="191.00" y="524.00" class="tl" text-anchor="end">700</text>
<line x1="199.60" x2="199.60" y1="520.60" y2="523.10" stroke="#111" stroke-width="0.9"/>
<text x="199.60" y="532.90" class="tl" text-anchor="middle">0</text>
<line x1="223.31" x2="223.31" y1="520.60" y2="523.10" stroke="#111" stroke-width="0.9"/>
<text x="223.31" y="532.90" class="tl" text-anchor="middle">20</text>
<line x1="247.03" x2="247.03" y1="520.60" y2="523.10" stroke="#111" stroke-width="0.9"/>
<text x="247.03" y="532.90" class="tl" text-anchor="middle">40</text>
<line x1="270.74" x2="270.74" y1="520.60" y2="523.10" stroke="#111" stroke-width="0.9"/>
<text x="270.74" y="532.90" class="tl" text-anchor="middle">60</text>
<line x1="199.60" x2="199.60" y1="310.20" y2="312.40" stroke="#444" stroke-width="0.6"/>
<line x1="223.31" x2="223.31" y1="310.20" y2="312.40" stroke="#444" stroke-width="0.6"/>
<line x1="247.03" x2="247.03" y1="310.20" y2="312.40" stroke="#444" stroke-width="0.6"/>
<line x1="270.74" x2="270.74" y1="310.20" y2="312.40" stroke="#444" stroke-width="0.6"/>
<line x1="282.60" x2="282.60" y1="310.20" y2="312.40" stroke="#444" stroke-width="0.6"/>
<text x="199.60" y="309.80" class="tl" text-anchor="middle">5</text>
<text x="241.10" y="309.80" class="tl" text-anchor="middle">7</text>
<text x="280.60" y="309.80" class="tl" text-anchor="middle">9</text>
<rect x="195.60" y="311.55" width="8" height="1.7" fill="#000"/>
<rect x="195.60" y="314.52" width="8" height="1.7" fill="#000"/>
<rect x="195.60" y="318.99" width="8" height="1.7" fill="#000"/>
<rect x="195.60" y="326.42" width="8" height="1.7" fill="#000"/>
<rect x="195.60" y="341.29" width="8" height="1.7" fill="#000"/>
<rect x="195.60" y="371.04" width="8" height="1.7" fill="#000"/>
<rect x="195.60" y="519.75" width="8" height="1.7" fill="#000"/>
<rect x="237.10" y="311.55" width="8" height="1.7" fill="#000"/>
<rect x="237.10" y="314.52" width="8" height="1.7" fill="#000"/>
<rect x="237.10" y="318.99" width="8" height="1.7" fill="#000"/>
<rect x="237.10" y="326.42" width="8" height="1.7" fill="#000"/>
<rect x="237.10" y="341.29" width="8" height="1.7" fill="#000"/>
<rect x="237.10" y="371.04" width="8" height="1.7" fill="#000"/>
<rect x="237.10" y="439.44" width="8" height="1.7" fill="#000"/>
<rect x="278.60" y="311.55" width="8" height="1.7" fill="#000"/>
<rect x="278.60" y="314.52" width="8" height="1.7" fill="#000"/>
<rect x="278.60" y="318.99" width="8" height="1.7" fill="#000"/>
<rect x="278.60" y="326.42" width="8" height="1.7" fill="#000"/>
<rect x="278.60" y="341.29" width="8" height="1.7" fill="#000"/>
<rect x="278.60" y="360.03" width="8" height="1.7" fill="#000"/>
<rect x="286.30" y="515.08" width="8.40" height="4.32" fill="#ffffff" stroke="#222" stroke-width="0.8"/>
<rect x="286.30" y="510.77" width="8.40" height="4.32" fill="#ffffff" stroke="#222" stroke-width="0.8"/>
<rect x="286.30" y="506.45" width="8.40" height="4.32" fill="#fffefe" stroke="#222" stroke-width="0.8"/>
<rect x="286.30" y="502.14" width="8.40" height="4.32" fill="#fdf9f5" stroke="#222" stroke-width="0.8"/>
<rect x="286.30" y="497.82" width="8.40" height="4.32" fill="#fbf4ed" stroke="#222" stroke-width="0.8"/>
<rect x="286.30" y="493.51" width="8.40" height="4.32" fill="#f8efe4" stroke="#222" stroke-width="0.8"/>
<rect x="286.30" y="489.19" width="8.40" height="4.32" fill="#f6eadb" stroke="#222" stroke-width="0.8"/>
<rect x="286.30" y="484.88" width="8.40" height="4.32" fill="#f4e5d5" stroke="#222" stroke-width="0.8"/>
<rect x="286.30" y="480.56" width="8.40" height="4.32" fill="#f1e1cf" stroke="#222" stroke-width="0.8"/>
<rect x="286.30" y="476.24" width="8.40" height="4.32" fill="#efddc9" stroke="#222" stroke-width="0.8"/>
<rect x="286.30" y="471.93" width="8.40" height="4.32" fill="#edd8c3" stroke="#222" stroke-width="0.8"/>
<rect x="286.30" y="467.61" width="8.40" height="4.32" fill="#ebd4bd" stroke="#222" stroke-width="0.8"/>
<rect x="286.30" y="463.30" width="8.40" height="4.32" fill="#e8d0b7" stroke="#222" stroke-width="0.8"/>
<rect x="286.30" y="458.98" width="8.40" height="4.32" fill="#e6ccb1" stroke="#222" stroke-width="0.8"/>
<rect x="286.30" y="454.67" width="8.40" height="4.32" fill="#e4c8ab" stroke="#222" stroke-width="0.8"/>
<rect x="286.30" y="450.35" width="8.40" height="4.32" fill="#e1c4a5" stroke="#222" stroke-width="0.8"/>
<rect x="286.30" y="446.03" width="8.40" height="4.32" fill="#dfc09f" stroke="#222" stroke-width="0.8"/>
<rect x="286.30" y="441.72" width="8.40" height="4.32" fill="#dcbb99" stroke="#222" stroke-width="0.8"/>
<rect x="286.30" y="437.40" width="8.40" height="4.32" fill="#dab793" stroke="#222" stroke-width="0.8"/>
<rect x="286.30" y="433.09" width="8.40" height="4.32" fill="#d8b28d" stroke="#222" stroke-width="0.8"/>
<rect x="286.30" y="428.77" width="8.40" height="4.32" fill="#d5ae87" stroke="#222" stroke-width="0.8"/>
<rect x="286.30" y="424.46" width="8.40" height="4.32" fill="#d2a980" stroke="#222" stroke-width="0.8"/>
<rect x="286.30" y="420.14" width="8.40" height="4.32" fill="#cfa479" stroke="#222" stroke-width="0.8"/>
<rect x="286.30" y="415.82" width="8.40" height="4.32" fill="#cc9f73" stroke="#222" stroke-width="0.8"/>
<rect x="286.30" y="411.51" width="8.40" height="4.32" fill="#c99a6c" stroke="#222" stroke-width="0.8"/>
<rect x="286.30" y="407.19" width="8.40" height="4.32" fill="#c69565" stroke="#222" stroke-width="0.8"/>
<rect x="286.30" y="402.88" width="8.40" height="4.32" fill="#c28f5c" stroke="#222" stroke-width="0.8"/>
<rect x="286.30" y="398.56" width="8.40" height="4.32" fill="#be8953" stroke="#222" stroke-width="0.8"/>
<rect x="286.30" y="394.25" width="8.40" height="4.32" fill="#b9844a" stroke="#222" stroke-width="0.8"/>
<rect x="286.30" y="389.93" width="8.40" height="4.32" fill="#b57e41" stroke="#222" stroke-width="0.8"/>
<rect x="286.30" y="385.62" width="8.40" height="4.32" fill="#b07839" stroke="#222" stroke-width="0.8"/>
<rect x="286.30" y="381.30" width="8.40" height="4.32" fill="#a87030" stroke="#222" stroke-width="0.8"/>
<text x="297.50" y="389.12" class="tl">150</text>
<text x="297.50" y="410.69" class="tl">125</text>
<text x="297.50" y="432.27" class="tl">100</text>
<text x="297.50" y="453.85" class="tl">75</text>
<text x="297.50" y="475.43" class="tl">50</text>
<text x="297.50" y="497.01" class="tl">25</text>
<text x="297.50" y="518.58" class="tl">0</text>
<text x="199.40" y="286.90" class="tb">(e)</text>
<text x="221.60" y="286.90" class="tt">Phosphate</text>
<text x="239.50" y="299.50" class="tt" text-anchor="middle">Stations</text>
<text x="239.50" y="540.70" class="tt" text-anchor="middle">Distance, km</text>
<text class="tt" text-anchor="middle" transform="translate(171.00,408.50) rotate(-90)">Depth, m</text>
<clipPath id="clipf"><rect x="357.50" y="312.40" width="83.80" height="208.20"/></clipPath>
<g clip-path="url(#clipf)" stroke="#1a1a1a" stroke-width="0.9" fill-rule="evenodd">
<rect x="355.50" y="310.40" width="87.80" height="212.20" fill="#fafac4" stroke="none"/>
<path fill="#f0f0b8" d="M355.7,310.6l87.4,0 0,199.4 -1.5-1.9 -1.9-3.4 -3.2-6.6 -3.1-7.1 -4.2-11.1 -5.9-17.6 -2.6-6.2 -1.9-3.6 -2.1-3.2 -2.4-2.9 -2.4-2.3 -2-1.4 -2.1-1.2 -2.3-.8 -2-.4 -11.7-.3 -36.1-2 0-127.4z"/>
<path fill="#e4e4a8" d="M355.7,310.6l87.4,0 0,138 -2-1.4 -8.4-7.9 -5.5-4.5 -6.1-3.9 -2.9-1.5 -2.9-1.2 -3-.8 -3.4-.6 -14.6-1.9 -14.7-2.2 -19.5-3.3 -4.4-.4 0-108.4z"/>
<path fill="#d8d898" d="M355.7,310.6l87.4,0 0,120.3 -2.4-1.1 -8.5-5.1 -8-4.4 -6.3-3.1 -4.6-1.7 -3.9-.8 -14.6-2.2 -21-4.1 -13.2-2 -4.9-.4 0-95.4z"/>
<path fill="#c8c888" d="M355.7,310.6l87.4,0 0,23.3 -2,0 -1.4,.4 -1,.6 -.5,.9 .1,.9 .3,.4 1.1,.8 1.4,.5 2-.1 0,81.3 -2.4-.8 -14.5-6.1 -8-2.8 -27.3-7 -19.6-6.1 -9.7-2.8 -3-.7 -2.9-.3 0-82.4z"/>
<path fill="#b8b878" d="M355.7,310.6l87.4,0 0,20.7 -3.4,.2 -3,.9 -1.2,.8 -.9,.8 -.6,.9 -.2,.9 .2,1.3 .5,.9 .7,.9 1.2,.9 1.3,.6 2,.6 3.4,.1 0,69.4 -24.5-6.2 -23.3-4.5 -4-1 -14.1-5.8 -9.3-5 -7.3-3.6 -2.5-.9 -2.4-.4 0-72.5zM356.2,372.4l-.2,.1 .2,.2 .5,0 .2-.2 -.7-.1z"/>
<path fill="#a8a868" d="M355.7,310.6l87.4,0 0,18.2 -2.4,0 -2.5,.3 -2.4,.6 -2,.8 -1.4,.9 -1.5,1.3 -.9,1.3 -.5,1.8 .2,1.8 .7,1.3 1,1.3 1.9,1.5 2,1 2.4,.8 2.5,.4 2.9,0 0,58.6 -14.2-1.9 -25.8-2.6 -5.9-.8 -3.9-.9 -7.8-3 -5.4-2.3 -2.9-1.4 -3.7-2.5 -8.5-6.8 -3.9-2.6 -2.2-1.2 2.2-1.8 .6-.9 .1-.8 -.4-.9 -.4-.5 -1.4-.8 -1.9-.6 -2-.1 0-59.5z"/>
<path fill="#9a9a58" d="M355.7,310.6l87.4,0 0,15.7 -3.4,0 -3,.4 -2.9,.8 -3,1.2 -2.2,1.4 -1.8,1.7 -1.1,1.8 -.5,2.2 .3,2.2 1,2.2 1.5,1.8 2.4,1.8 2.7,1.3 3.2,1 3.4,.5 3.4,.1 0,47.8 -35.6-1 -3.5-.3 -5.8-1 -6.4-1.5 -2.4-.9 -2-1.1 -6.3-4.5 -3.9-3.5 -7.1-7.7 -2.2-1.9 -2.5-1.2 -4.3-1.6 -2.6-.7 -2.8-.3 0-56.7z"/>
<path fill="#8c8c48" d="M355.7,310.6l87.4,0 0,13.1 -4.4,.1 -3.9,.6 -3.9,1.1 -3.4,1.6 -2.6,1.6 -2.2,2.3 -1.3,2.2 -.4,1.3 -.2,1.3 .4,2.7 1.2,2.6 2.1,2.5 3,2.2 3.4,1.7 3.9,1.2 3.9,.6 4.4,.2 0,36.4 -10.3,.8 -20,1.1 -4.9-.5 -11.2-2.1 -1.9-.6 -2-1.1 -9.3-6.5 -3.2-2.7 -6.3-6.2 -2.2-1.6 -2.9-1.1 -6.8-1.5 -3.5-.7 -2.9-.2 0-52.4z"/>
<path fill="#80803c" d="M355.7,312.8l0-.3 87.4,0 0,8.6 -4.9,.1 -4.9,.8 -4.9,1.4 -3.9,1.8 -3.3,2.2 -2.6,2.7 -1.5,2.6 -.4,1.3 -.2,1.8 .4,3.1 1.4,3.1 2.3,2.9 3.1,2.4 4.1,2.2 7,2.6 4.4,1 3.9,.2 0,21.1 -2.4,.6 -12.3,3.6 -13.6,2.3 -4.4,.1 -8.8-1.2 -2.4-.6 -1.5-.6 -2-1.2 -2.3-1.8 -4.4-2.2 -2-1.8 -1-2 -8.1-5.9 -3.2-1.9 -1.9-.7 -2.4-.5 -10.3-1.6 -4.4-.3 0-45.9z"/>
<path fill="#707034" d="M355.7,315.5l0-.3 87.4,0 0,2.9 -4.9,.2 -4.4,.6 -4.4,1.1 -4.4,1.6 -3.7,1.8 -3.3,2.2 -1.9,1.8 -2.4,3.1 -.9,.6 -2.9,.1 -.7-.7 -.8-.2 -4.9,1.2 -3.4,.4 -3.9,.1 -3.9-.1 -3.9-.4 -2.4-.6 -2.3-.8 -1.6-1.1 -1-.3 -2.8,2.3 -1,1.3 -.8,1.3 -.5,1.8 0,1.7 .2,1.4 .8,1.7 1.2,1.6 1.6,1.5 2,1.4 1.7,.8 4.4,1.4 2.5,.5 2.9,.2 4.8-.3 2.3-.4 3-.9 1.1-.5 0-.3 .7-.1 -6,.6 -3.9,.2 -4.4-.2 -4.4-.6 -3-.7 -1.9-.8 -1.3-1.2 -.3-.8 .4-.9 .4-.5 1.4-.8 2.5-.9 3.7-.8 3.9-.3 3.9-.1 3.9,.2 3.9,.7 3.8,1.2 3.1,2.1 2.4,.3 2.1,2.9 2.1,2.2 2.2,1.7 4,2.7 3.8,3.6 -20-.7 -10.3,.3 -8.3-.2 -9.8,.3 -23.4-.3 0-38.8zM362.5,319.0l-.8,.5 -.3,.4 .3,.4 1,.5 1.3,.1 1.3-.1 1-.5 .3-.4 -.3-.4 -1.3-.6 -1.5-.1 -1,.2zM398.6,366.8l3-.3 3.4-.1 3.9,.3 3,.5 2.9,.9 1.4,.8 .9,1 0,.8 -.4,.9 -1,.9 -2.8,1.3 -4,.9 -4.4,.4 -4.4-.3 -3.4-.7 -2.9-1.2 -1.2-.8 -.8-.9 -.3-.9 0-.4 .6-.9 .6-.5 2.6-1 3.3-.7z"/>
<path fill="#606028" d="M393.4,326.1l4.3-.2 7,.2 2.2,.4 .9,.5 0,.4 -2.3,.5 -.5,.3 -1,1 -1.4,.6 -2,.4 -2.4,.3 -3.4,.1 -3.5-.4 -2.4-.6 -1.4-.9 -.1-.4 .1-.4 1.4-.9 2.4-.6 2.1-.3zM390.0,339.4l4.8-.5 4.8,.4 3.3,.9 .8,.5 .6,.9 -.5,.8 -1.8,.9 -2.8,.7 -3.5,.3 -3.4-.2 -2.9-.4 -2.5-.8 -1-.9 -.2-.4 .2-.5 .6-.5 1.7-.8 1.8-.4zM402.1,368.5l2.9,0 2.8,.5 2,.9 .3,.4 0,.4 -.9,.9 -1.3,.6 -1.9,.4 -2.5,.2 -2.4-.2 -1.9-.4 -1.2-.6 -.9-.9 0-.4 .3-.4 .6-.5 1.6-.5 2.5-.4z"/>
<path fill="#505020" d="M393.2,327.9l1.6-.4 1.9,0 2,.3 .6,.5 -.5,.4 -.6,.2 -2.9,.3 -2.1-.5 -.5-.4 .5-.4zM393.5,340.7l3.2,0 1.4,.4 .4,.5 -.3,.4 -1,.4 -2.4,.2 -2.5-.4 -.5-.2 -.3-.4 .4-.5 1.6-.4z"/>
</g>
<path fill="#cbcbcb" stroke="#333" stroke-width="0.9" d="M441.30,360.88L440.10,361.48L428.73,374.56L423.58,384.08L416.64,401.63L408.62,415.91L400.36,431.97L399.16,440.00L370.91,478.66L357.98,520.60L441.30,520.60Z"/>
<rect x="357.50" y="312.40" width="83.80" height="208.20" fill="none" stroke="#444" stroke-width="0.7"/>
<line x1="352.30" x2="357.50" y1="312.40" y2="312.40" stroke="#111" stroke-width="0.9"/>
<text x="348.90" y="315.80" class="tl" text-anchor="end">0</text>
<line x1="352.30" x2="357.50" y1="342.14" y2="342.14" stroke="#111" stroke-width="0.9"/>
<text x="348.90" y="345.54" class="tl" text-anchor="end">100</text>
<line x1="352.30" x2="357.50" y1="371.89" y2="371.89" stroke="#111" stroke-width="0.9"/>
<text x="348.90" y="375.29" class="tl" text-anchor="end">200</text>
<line x1="352.30" x2="357.50" y1="401.63" y2="401.63" stroke="#111" stroke-width="0.9"/>
<text x="348.90" y="405.03" class="tl" text-anchor="end">300</text>
<line x1="352.30" x2="357.50" y1="431.37" y2="431.37" stroke="#111" stroke-width="0.9"/>
<text x="348.90" y="434.77" class="tl" text-anchor="end">400</text>
<line x1="352.30" x2="357.50" y1="461.11" y2="461.11" stroke="#111" stroke-width="0.9"/>
<text x="348.90" y="464.51" class="tl" text-anchor="end">500</text>
<line x1="352.30" x2="357.50" y1="490.86" y2="490.86" stroke="#111" stroke-width="0.9"/>
<text x="348.90" y="494.26" class="tl" text-anchor="end">600</text>
<line x1="352.30" x2="357.50" y1="520.60" y2="520.60" stroke="#111" stroke-width="0.9"/>
<text x="348.90" y="524.00" class="tl" text-anchor="end">700</text>
<line x1="357.50" x2="357.50" y1="520.60" y2="523.10" stroke="#111" stroke-width="0.9"/>
<text x="357.50" y="532.90" class="tl" text-anchor="middle">0</text>
<line x1="381.44" x2="381.44" y1="520.60" y2="523.10" stroke="#111" stroke-width="0.9"/>
<text x="381.44" y="532.90" class="tl" text-anchor="middle">20</text>
<line x1="405.39" x2="405.39" y1="520.60" y2="523.10" stroke="#111" stroke-width="0.9"/>
<text x="405.39" y="532.90" class="tl" text-anchor="middle">40</text>
<line x1="429.33" x2="429.33" y1="520.60" y2="523.10" stroke="#111" stroke-width="0.9"/>
<text x="429.33" y="532.90" class="tl" text-anchor="middle">60</text>
<line x1="357.50" x2="357.50" y1="310.20" y2="312.40" stroke="#444" stroke-width="0.6"/>
<line x1="381.44" x2="381.44" y1="310.20" y2="312.40" stroke="#444" stroke-width="0.6"/>
<line x1="405.39" x2="405.39" y1="310.20" y2="312.40" stroke="#444" stroke-width="0.6"/>
<line x1="429.33" x2="429.33" y1="310.20" y2="312.40" stroke="#444" stroke-width="0.6"/>
<line x1="441.30" x2="441.30" y1="310.20" y2="312.40" stroke="#444" stroke-width="0.6"/>
<text x="357.50" y="309.80" class="tl" text-anchor="middle">5</text>
<text x="399.40" y="309.80" class="tl" text-anchor="middle">7</text>
<text x="439.30" y="309.80" class="tl" text-anchor="middle">9</text>
<rect x="353.50" y="311.55" width="8" height="1.7" fill="#000"/>
<rect x="353.50" y="314.52" width="8" height="1.7" fill="#000"/>
<rect x="353.50" y="318.99" width="8" height="1.7" fill="#000"/>
<rect x="353.50" y="326.42" width="8" height="1.7" fill="#000"/>
<rect x="353.50" y="341.29" width="8" height="1.7" fill="#000"/>
<rect x="353.50" y="371.04" width="8" height="1.7" fill="#000"/>
<rect x="353.50" y="519.75" width="8" height="1.7" fill="#000"/>
<rect x="395.40" y="311.55" width="8" height="1.7" fill="#000"/>
<rect x="395.40" y="314.52" width="8" height="1.7" fill="#000"/>
<rect x="395.40" y="318.99" width="8" height="1.7" fill="#000"/>
<rect x="395.40" y="326.42" width="8" height="1.7" fill="#000"/>
<rect x="395.40" y="341.29" width="8" height="1.7" fill="#000"/>
<rect x="395.40" y="371.04" width="8" height="1.7" fill="#000"/>
<rect x="395.40" y="439.44" width="8" height="1.7" fill="#000"/>
<rect x="437.30" y="311.55" width="8" height="1.7" fill="#000"/>
<rect x="437.30" y="314.52" width="8" height="1.7" fill="#000"/>
<rect x="437.30" y="318.99" width="8" height="1.7" fill="#000"/>
<rect x="437.30" y="326.42" width="8" height="1.7" fill="#000"/>
<rect x="437.30" y="341.29" width="8" height="1.7" fill="#000"/>
<rect x="437.30" y="360.03" width="8" height="1.7" fill="#000"/>
<rect x="446.30" y="507.44" width="9.10" height="9.96" fill="#fafac4" stroke="#222" stroke-width="0.8"/>
<rect x="446.30" y="497.47" width="9.10" height="9.96" fill="#f0f0b8" stroke="#222" stroke-width="0.8"/>
<rect x="446.30" y="487.51" width="9.10" height="9.96" fill="#e4e4a8" stroke="#222" stroke-width="0.8"/>
<rect x="446.30" y="477.54" width="9.10" height="9.96" fill="#d8d898" stroke="#222" stroke-width="0.8"/>
<rect x="446.30" y="467.58" width="9.10" height="9.96" fill="#c8c888" stroke="#222" stroke-width="0.8"/>
<rect x="446.30" y="457.61" width="9.10" height="9.96" fill="#b8b878" stroke="#222" stroke-width="0.8"/>
<rect x="446.30" y="447.65" width="9.10" height="9.96" fill="#a8a868" stroke="#222" stroke-width="0.8"/>
<rect x="446.30" y="437.69" width="9.10" height="9.96" fill="#9a9a58" stroke="#222" stroke-width="0.8"/>
<rect x="446.30" y="427.72" width="9.10" height="9.96" fill="#8c8c48" stroke="#222" stroke-width="0.8"/>
<rect x="446.30" y="417.76" width="9.10" height="9.96" fill="#80803c" stroke="#222" stroke-width="0.8"/>
<rect x="446.30" y="407.79" width="9.10" height="9.96" fill="#707034" stroke="#222" stroke-width="0.8"/>
<rect x="446.30" y="397.83" width="9.10" height="9.96" fill="#606028" stroke="#222" stroke-width="0.8"/>
<rect x="446.30" y="387.86" width="9.10" height="9.96" fill="#505020" stroke="#222" stroke-width="0.8"/>
<rect x="446.30" y="377.90" width="9.10" height="9.96" fill="#3c3c18" stroke="#222" stroke-width="0.8"/>
<text x="458.20" y="401.33" class="tl">55</text>
<text x="458.20" y="421.26" class="tl">45</text>
<text x="458.20" y="441.19" class="tl">35</text>
<text x="458.20" y="461.11" class="tl">25</text>
<text x="458.20" y="481.04" class="tl">15</text>
<text x="458.20" y="500.97" class="tl">5</text>
<text x="348.40" y="286.90" class="tb">(f)</text>
<text x="386.60" y="286.90" class="tt">Silicate</text>
<text x="397.80" y="299.50" class="tt" text-anchor="middle">Stations</text>
<text x="397.80" y="540.70" class="tt" text-anchor="middle">Distance, km</text>
<text class="tt" text-anchor="middle" transform="translate(328.90,408.50) rotate(-90)">Depth, m</text>
</svg>
</body></html>
